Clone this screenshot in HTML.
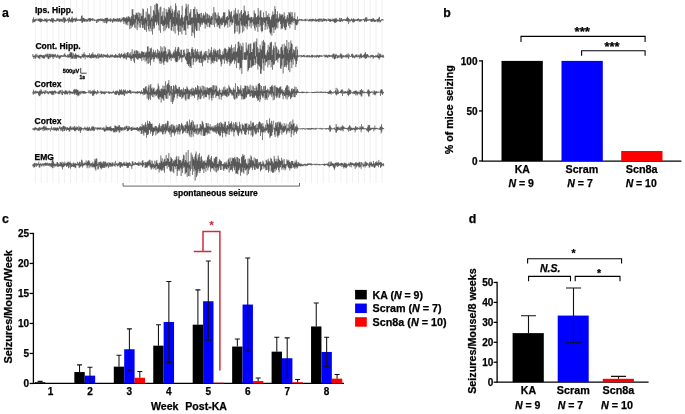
<!DOCTYPE html>
<html><head><meta charset="utf-8"><style>
html,body{margin:0;padding:0;background:#fff;}
svg{display:block;font-family:"Liberation Sans", Arial, sans-serif;}
</style></head><body>
<svg width="685" height="414" viewBox="0 0 685 414">
<defs><filter id="bl" x="-5%" y="-50%" width="110%" height="200%"><feGaussianBlur stdDeviation="0.18"/></filter></defs>
<rect width="685" height="414" fill="#fff"/>
<path d="M35.30 0V183 M41.18 0V183 M47.05 0V183 M52.93 0V183 M58.80 0V183 M64.68 0V183 M70.56 0V183 M76.43 0V183 M82.31 0V183 M88.18 0V183 M94.06 0V183 M99.94 0V183 M105.81 0V183 M111.69 0V183 M117.56 0V183 M123.44 0V183 M129.32 0V183 M135.19 0V183 M141.07 0V183 M146.94 0V183 M152.82 0V183 M158.70 0V183 M164.57 0V183 M170.45 0V183 M176.32 0V183 M182.20 0V183 M188.08 0V183 M193.95 0V183 M199.83 0V183 M205.70 0V183 M211.58 0V183 M217.46 0V183 M223.33 0V183 M229.21 0V183 M235.08 0V183 M240.96 0V183 M246.84 0V183 M252.71 0V183 M258.59 0V183 M264.46 0V183 M270.34 0V183 M276.22 0V183 M282.09 0V183 M287.97 0V183 M293.84 0V183 M299.72 0V183 M305.60 0V183 M311.47 0V183 M317.35 0V183 M323.22 0V183 M329.10 0V183 M334.98 0V183 M340.85 0V183 M346.73 0V183 M352.60 0V183 M358.48 0V183 M364.36 0V183 M370.23 0V183 M376.11 0V183 M381.98 0V183" stroke="#ececec" stroke-width="0.8" fill="none"/>
<g filter="url(#bl)">
<path d="M32.50 23.1 32.83 19.0 33.17 22.3 33.50 17.2 33.83 22.2 34.17 19.7 34.50 21.8 34.83 19.2 35.17 21.5 35.50 18.9 35.83 21.1 36.17 19.7 36.50 20.3 36.83 18.6 37.17 20.4 37.50 19.8 37.83 20.7 38.17 18.6 38.50 20.9 38.83 18.8 39.17 21.4 39.50 18.8 39.83 21.9 40.17 17.9 40.50 22.4 40.83 19.1 41.17 21.6 41.50 18.8 41.83 21.8 42.17 18.9 42.50 20.7 42.83 19.8 43.17 21.2 43.50 20.0 43.83 21.1 44.17 19.5 44.50 21.3 44.83 18.4 45.17 21.1 45.50 19.0 45.83 21.5 46.17 19.6 46.50 22.2 46.83 18.3 47.17 22.4 47.50 19.9 47.83 20.8 48.17 19.4 48.50 20.6 48.83 19.4 49.17 20.3 49.50 19.1 49.83 21.2 50.17 19.2 50.50 21.4 50.83 19.9 51.17 21.7 51.50 18.2 51.83 21.3 52.17 18.2 52.50 22.6 52.83 18.7 53.17 22.7 53.50 18.2 53.83 21.1 54.17 19.7 54.50 20.9 54.83 20.0 55.17 21.9 55.50 20.1 55.83 20.7 56.17 19.9 56.50 21.4 56.83 18.4 57.17 21.1 57.50 18.7 57.83 20.6 58.17 18.4 58.50 20.6 58.83 19.4 59.17 21.9 59.50 18.8 59.83 22.1 60.17 18.7 60.50 20.7 60.83 19.4 61.17 21.6 61.50 18.7 61.83 21.2 62.17 19.7 62.50 21.8 62.83 18.6 63.17 20.4 63.50 17.2 63.83 22.6 64.17 17.6 64.50 22.8 64.83 17.6 65.17 21.3 65.50 18.7 65.83 21.7 66.17 19.8 66.50 20.6 66.83 20.1 67.17 21.0 67.50 18.4 67.83 20.4 68.17 19.3 68.50 22.8 68.83 17.8 69.17 21.4 69.50 17.4 69.83 21.6 70.17 19.5 70.50 21.4 70.83 19.6 71.17 22.4 71.50 18.1 71.83 21.7 72.17 16.6 72.50 22.5 72.83 18.3 73.17 21.8 73.50 19.0 73.83 20.3 74.17 18.1 74.50 20.3 74.83 18.7 75.17 22.0 75.50 18.8 75.83 21.6 76.17 17.6 76.50 20.7 76.83 18.5 77.17 20.8 77.50 19.9 77.83 20.9 78.17 19.0 78.50 20.6 78.83 19.7 79.17 20.4 79.50 19.4 79.83 21.1 80.17 19.3 80.50 21.1 80.83 18.6 81.17 20.6 81.50 16.1 81.83 22.8 82.17 15.4 82.50 22.6 82.83 18.1 83.17 21.8 83.50 17.8 83.83 21.3 84.17 18.3 84.50 21.4 84.83 18.9 85.17 22.0 85.50 19.2 85.83 20.5 86.17 19.3 86.50 21.6 86.83 19.2 87.17 21.7 87.50 19.7 87.83 21.3 88.17 18.1 88.50 20.1 88.83 18.6 89.17 21.7 89.50 18.2 89.83 21.4 90.17 18.1 90.50 21.4 90.83 18.3 91.17 20.4 91.50 19.1 91.83 20.3 92.17 18.7 92.50 20.9 92.83 18.0 93.17 20.2 93.50 19.4 93.83 20.7 94.17 19.6 94.50 21.1 94.83 19.4 95.17 20.4 95.50 19.8 95.83 20.8 96.17 20.1 96.50 23.0 96.83 19.3 97.17 22.7 97.50 19.3 97.83 20.8 98.17 18.8 98.50 21.8 98.83 18.9 99.17 20.4 99.50 19.0 99.83 21.2 100.17 18.9 100.50 20.4 100.83 18.4 101.17 21.1 101.50 19.4 101.83 20.9 102.17 18.5 102.50 20.9 102.83 19.4 103.17 22.6 103.50 19.0 103.83 20.8 104.17 19.6 104.50 22.8 104.83 18.3 105.17 20.8 105.50 18.1 105.83 22.9 106.17 18.1 106.50 23.5 106.83 17.7 107.17 22.6 107.50 17.9 107.83 21.0 108.17 18.7 108.50 21.3 108.83 19.8 109.17 20.6 109.50 19.3 109.83 21.4 110.17 18.5 110.50 22.0 110.83 18.5 111.17 20.5 111.50 19.8 111.83 21.2 112.17 18.9 112.50 22.8 112.83 19.9 113.17 22.1 113.50 18.2 113.83 20.9 114.17 18.4 114.50 21.5 114.83 18.9 115.17 20.9 115.50 19.2 115.83 21.8 116.17 18.5 116.50 21.1 116.83 19.3 117.17 21.9 117.50 18.4 117.83 20.4 118.17 18.2 118.50 21.9 118.83 19.2 119.17 21.6 119.50 18.2 119.83 21.2 120.17 18.4 120.50 22.4 120.83 20.0 121.17 20.9 121.50 18.9 121.83 21.9 122.17 17.5 122.50 19.9 122.83 18.5 123.17 21.4 123.50 17.2 123.83 24.0 124.17 17.1 124.50 21.2 124.83 18.2 125.17 22.4 125.50 18.3 125.83 24.5 126.17 17.4 126.50 24.6 126.83 16.8 127.17 22.6 127.50 18.4 127.83 25.4 128.17 16.3 128.50 21.4 128.83 16.4 129.17 21.9 129.50 17.6 129.83 29.2 130.17 17.3 130.50 25.4 130.83 19.0 131.17 28.3 131.50 16.3 131.83 25.6 132.17 9.5 132.50 26.8 132.83 9.0 133.17 25.1 133.50 14.7 133.83 24.1 134.17 19.1 134.50 27.5 134.83 14.7 135.17 22.6 135.50 15.2 135.83 28.3 136.17 12.8 136.50 19.4 136.83 12.9 137.17 30.1 137.50 14.8 137.83 24.6 138.17 12.2 138.50 21.1 138.83 17.3 139.17 27.4 139.50 12.8 139.83 23.0 140.17 19.2 140.50 27.7 140.83 13.4 141.17 20.9 141.50 16.3 141.83 24.8 142.17 15.7 142.50 27.8 142.83 8.5 143.17 28.1 143.50 9.4 143.83 24.8 144.17 18.9 144.50 29.7 144.83 17.7 145.17 30.1 145.50 17.7 145.83 23.4 146.17 11.7 146.50 31.8 146.83 19.8 147.17 26.1 147.50 8.3 147.83 20.8 148.17 14.4 148.50 29.4 148.83 13.6 149.17 31.4 149.50 14.7 149.83 25.7 150.17 19.7 150.50 28.4 150.83 6.1 151.17 31.3 151.50 17.5 151.83 21.5 152.17 18.8 152.50 34.5 152.83 15.8 153.17 29.0 153.50 10.0 153.83 26.1 154.17 11.5 154.50 28.3 154.83 4.8 155.17 22.1 155.50 14.6 155.83 22.3 156.17 3.7 156.50 25.2 156.83 3.2 157.17 21.5 157.50 4.0 157.83 23.5 158.17 9.6 158.50 25.3 158.83 12.5 159.17 30.5 159.50 14.8 159.83 9.1 160.17 7.4 160.50 32.8 160.83 6.5 161.17 24.1 161.50 16.3 161.83 24.2 162.17 15.5 162.50 25.7 162.83 11.5 163.17 25.8 163.50 20.2 163.83 31.3 164.17 7.9 164.50 25.3 164.83 15.8 165.17 30.4 165.50 17.6 165.83 24.2 166.17 9.1 166.50 28.3 166.83 11.9 167.17 26.8 167.50 12.6 167.83 24.5 168.17 9.5 168.50 28.3 168.83 7.0 169.17 28.4 169.50 8.3 169.83 22.0 170.17 10.5 170.50 19.5 170.83 5.8 171.17 30.4 171.50 13.1 171.83 30.7 172.17 8.8 172.50 26.6 172.83 11.1 173.17 23.9 173.50 17.1 173.83 31.4 174.17 12.3 174.50 26.0 174.83 10.1 175.17 33.6 175.50 3.4 175.83 26.0 176.17 5.8 176.50 23.6 176.83 17.6 177.17 25.2 177.50 12.5 177.83 30.5 178.17 10.4 178.50 35.3 178.83 14.1 179.17 31.9 179.50 10.5 179.83 25.6 180.17 19.1 180.50 31.6 180.83 17.5 181.17 25.9 181.50 15.0 181.83 34.3 182.17 5.8 182.50 27.6 182.83 17.5 183.17 24.6 183.50 21.5 183.83 30.6 184.17 17.3 184.50 29.9 184.83 15.6 185.17 30.8 185.50 8.6 185.83 35.0 186.17 3.7 186.50 20.4 186.83 6.5 187.17 24.6 187.50 16.0 187.83 28.6 188.17 4.4 188.50 25.3 188.83 20.7 189.17 24.8 189.50 13.7 189.83 24.9 190.17 11.8 190.50 25.3 190.83 9.1 191.17 24.2 191.50 17.8 191.83 36.1 192.17 17.7 192.50 32.3 192.83 17.2 193.17 23.4 193.50 9.0 193.83 33.4 194.17 9.1 194.50 37.7 194.83 6.8 195.17 26.7 195.50 14.3 195.83 29.4 196.17 17.8 196.50 31.0 196.83 9.2 197.17 30.8 197.50 12.1 197.83 23.0 198.17 13.8 198.50 22.6 198.83 14.0 199.17 30.6 199.50 14.1 199.83 23.7 200.17 13.1 200.50 26.8 200.83 17.6 201.17 24.7 201.50 12.8 201.83 22.7 202.17 17.9 202.50 24.7 202.83 15.5 203.17 23.0 203.50 13.4 203.83 22.1 204.17 15.8 204.50 23.4 204.83 14.8 205.17 28.7 205.50 12.3 205.83 24.2 206.17 19.1 206.50 24.7 206.83 13.2 207.17 26.9 207.50 14.1 207.83 22.6 208.17 18.2 208.50 22.7 208.83 14.7 209.17 27.0 209.50 15.6 209.83 27.6 210.17 18.6 210.50 24.3 210.83 16.5 211.17 24.3 211.50 15.9 211.83 24.9 212.17 17.7 212.50 19.4 212.83 13.5 213.17 25.0 213.50 15.6 213.83 7.1 214.17 16.0 214.50 27.1 214.83 11.9 215.17 20.2 215.50 12.8 215.83 23.5 216.17 19.1 216.50 22.4 216.83 14.6 217.17 26.8 217.50 18.0 217.83 24.8 218.17 12.5 218.50 25.1 218.83 15.6 219.17 27.7 219.50 16.2 219.83 28.7 220.17 17.7 220.50 23.6 220.83 19.2 221.17 25.6 221.50 17.4 221.83 24.7 222.17 18.4 222.50 24.8 222.83 15.9 223.17 22.4 223.50 12.2 223.83 23.0 224.17 13.0 224.50 27.2 224.83 12.1 225.17 25.8 225.50 19.7 225.83 25.1 226.17 17.3 226.50 23.1 226.83 16.8 227.17 24.3 227.50 16.0 227.83 27.7 228.17 17.9 228.50 20.3 228.83 9.5 229.17 18.8 229.50 11.4 229.83 26.7 230.17 14.5 230.50 22.2 230.83 12.1 231.17 22.2 231.50 11.2 231.83 25.2 232.17 16.5 232.50 23.2 232.83 19.1 233.17 22.5 233.50 15.2 233.83 18.7 234.17 10.3 234.50 33.7 234.83 14.2 235.17 32.5 235.50 8.2 235.83 23.8 236.17 12.7 236.50 25.9 236.83 14.5 237.17 31.7 237.50 13.8 237.83 25.2 238.17 9.6 238.50 25.5 238.83 20.6 239.17 34.2 239.50 13.4 239.83 32.7 240.17 18.1 240.50 20.6 240.83 11.5 241.17 24.5 241.50 10.0 241.83 26.1 242.17 15.5 242.50 32.6 242.83 14.1 243.17 24.8 243.50 13.0 243.83 31.3 244.17 5.6 244.50 26.2 244.83 10.3 245.17 25.6 245.50 11.6 245.83 27.4 246.17 15.2 246.50 23.9 246.83 16.1 247.17 29.4 247.50 15.0 247.83 26.3 248.17 11.2 248.50 20.4 248.83 14.1 249.17 20.5 249.50 17.6 249.83 26.6 250.17 18.0 250.50 23.2 250.83 16.9 251.17 28.3 251.50 16.9 251.83 22.7 252.17 17.4 252.50 21.5 252.83 19.6 253.17 25.9 253.50 17.5 253.83 24.1 254.17 10.4 254.50 28.4 254.83 12.8 255.17 30.7 255.50 13.9 255.83 25.1 256.17 17.5 256.50 27.3 256.83 17.0 257.17 24.2 257.50 15.8 257.83 31.9 258.17 8.2 258.50 23.9 258.83 15.3 259.17 26.9 259.50 17.5 259.83 19.8 260.17 10.9 260.50 25.5 260.83 10.2 261.17 30.7 261.50 17.0 261.83 32.3 262.17 17.7 262.50 31.0 262.83 17.8 263.17 24.8 263.50 12.4 263.83 21.8 264.17 17.4 264.50 23.0 264.83 17.3 265.17 30.1 265.50 17.6 265.83 26.3 266.17 11.0 266.50 20.6 266.83 17.0 267.17 29.3 267.50 15.2 267.83 24.0 268.17 17.0 268.50 26.4 268.83 13.3 269.17 28.5 269.50 17.0 269.83 32.5 270.17 19.0 270.50 34.3 270.83 20.1 271.17 32.4 271.50 16.6 271.83 35.7 272.17 14.7 272.50 27.1 272.83 11.4 273.17 28.2 273.50 14.9 273.83 33.0 274.17 14.0 274.50 26.8 274.83 6.2 275.17 30.1 275.50 9.0 275.83 29.1 276.17 18.5 276.50 27.3 276.83 14.3 277.17 22.4 277.50 11.3 277.83 28.4 278.17 18.7 278.50 22.4 278.83 17.6 279.17 21.6 279.50 13.5 279.83 21.1 280.17 15.6 280.50 24.0 280.83 13.9 281.17 29.4 281.50 15.5 281.83 28.0 282.17 14.4 282.50 28.7 282.83 14.8 283.17 23.3 283.50 17.6 283.83 26.5 284.17 12.3 284.50 28.1 284.83 15.8 285.17 30.2 285.50 19.2 285.83 29.8 286.17 19.4 286.50 26.9 286.83 16.8 287.17 23.2 287.50 15.0 287.83 21.4 288.17 18.2 288.50 25.9 288.83 12.1 289.17 24.1 289.50 12.8 289.83 28.3 290.17 13.9 290.50 24.2 290.83 11.9 291.17 22.2 291.50 16.7 291.83 24.7 292.17 12.1 292.50 21.9 292.83 16.4 293.17 20.6 293.50 18.7 293.83 23.1 294.17 18.2 294.50 20.6 294.83 12.5 295.17 29.9 295.50 19.0 295.83 24.6 296.17 19.3 296.50 25.2 296.83 19.5 297.17 25.2 297.50 16.5 297.83 23.7 298.17 20.0 298.50 21.3 298.83 19.4 299.17 20.6 299.50 18.8 299.83 20.5 300.17 19.7 300.50 20.3 300.83 19.0 301.17 21.1 301.50 19.1 301.83 20.4 302.17 19.7 302.50 20.9 302.83 19.2 303.17 21.2 303.50 20.4 303.83 20.7 304.17 19.7 304.50 20.5 304.83 19.1 305.17 21.3 305.50 18.8 305.83 21.1 306.17 19.9 306.50 20.3 306.83 18.9 307.17 20.8 307.50 19.7 307.83 20.0 308.17 19.7 308.50 21.3 308.83 19.6 309.17 21.3 309.50 19.0 309.83 20.8 310.17 18.8 310.50 21.3 310.83 19.8 311.17 20.5 311.50 19.0 311.83 21.8 312.17 19.0 312.50 21.1 312.83 18.7 313.17 20.7 313.50 19.1 313.83 21.2 314.17 19.3 314.50 20.5 314.83 19.7 315.17 21.5 315.50 18.5 315.83 21.4 316.17 19.5 316.50 21.5 316.83 19.4 317.17 21.2 317.50 19.6 317.83 21.0 318.17 19.1 318.50 21.7 318.83 18.6 319.17 22.0 319.50 18.6 319.83 20.2 320.17 19.2 320.50 21.4 320.83 18.4 321.17 20.3 321.50 19.4 321.83 22.0 322.17 18.5 322.50 21.6 322.83 19.9 323.17 20.8 323.50 18.6 323.83 21.3 324.17 18.5 324.50 21.1 324.83 19.0 325.17 20.6 325.50 19.0 325.83 20.6 326.17 18.9 326.50 21.6 326.83 19.8 327.17 20.7 327.50 19.9 327.83 20.5 328.17 18.4 328.50 20.9 328.83 19.3 329.17 20.8 329.50 18.9 329.83 22.0 330.17 19.3 330.50 21.7 330.83 18.7 331.17 21.3 331.50 19.9 331.83 21.1 332.17 19.7 332.50 21.4 332.83 18.5 333.17 20.7 333.50 19.3 333.83 22.0 334.17 19.1 334.50 22.8 334.83 18.4 335.17 22.7 335.50 18.8 335.83 22.7 336.17 17.9 336.50 22.0 336.83 19.4 337.17 21.0 337.50 19.7 337.83 21.3 338.17 19.7 338.50 20.7 338.83 19.9 339.17 21.6 339.50 17.8 339.83 21.6 340.17 19.7 340.50 22.0 340.83 18.0 341.17 21.3 341.50 18.1 341.83 21.0 342.17 19.5 342.50 21.7 342.83 19.5 343.17 20.6 343.50 19.2 343.83 20.8 344.17 19.7 344.50 20.3 344.83 19.0 345.17 20.8 345.50 19.5 345.83 21.0 346.17 19.1 346.50 21.2 346.83 17.9 347.17 21.0 347.50 16.7 347.83 21.7 348.17 18.2 348.50 24.1 348.83 18.4 349.17 20.8 349.50 19.2 349.83 22.2 350.17 20.2 350.50 20.7 350.83 19.3 351.17 21.0 351.50 18.4 351.83 20.5 352.17 19.4 352.50 21.7 352.83 19.4 353.17 22.5 353.50 18.3 353.83 22.3 354.17 19.0 354.50 21.6 354.83 19.5 355.17 21.1 355.50 19.5 355.83 20.7 356.17 19.7 356.50 20.8 356.83 19.2 357.17 20.8 357.50 19.2 357.83 21.2 358.17 18.3 358.50 20.2 358.83 18.9 359.17 21.4 359.50 19.7 359.83 21.8 360.17 19.0 360.50 21.4 360.83 19.5 361.17 21.2 361.50 19.2 361.83 20.5 362.17 19.7 362.50 20.3 362.83 19.2 363.17 20.1 363.50 19.3 363.83 20.4 364.17 18.6 364.50 21.8 364.83 19.4 365.17 21.6 365.50 17.5 365.83 20.9 366.17 17.4 366.50 22.0 366.83 17.4 367.17 21.0 367.50 19.6 367.83 20.5 368.17 19.1 368.50 20.6 368.83 19.6 369.17 20.4 369.50 19.3 369.83 20.4 370.17 19.2 370.50 20.7 370.83 19.2 371.17 21.9 371.50 18.8 371.83 22.0 372.17 19.4 372.50 21.4 372.83 18.2 373.17 20.9 373.50 18.5 373.83 21.9 374.17 19.1 374.50 21.8 374.83 19.9 375.17 21.9 375.50 19.9 375.83 21.5 376.17 19.8 376.50 20.4 376.83 19.4 377.17 21.5 377.50 19.0 377.83 22.4 378.17 18.9 378.50 21.7 378.83 17.6 379.17 20.8 379.50 16.9 379.83 22.5 380.17 20.1 380.50 22.1 380.83 20.0 381.17 20.8 381.50 19.4 381.83 20.5 382.17 19.2 382.50 20.2 382.83 19.1 383.17 20.3 383.50 20.1 383.83 20.7" stroke="#000" stroke-width="0.32" fill="none" stroke-linejoin="round"/>
<path d="M32.50 56.6 32.83 54.1 33.17 57.1 33.50 56.0 33.83 58.8 34.17 55.5 34.50 56.9 34.83 55.5 35.17 58.5 35.50 54.3 35.83 58.5 36.17 55.6 36.50 56.6 36.83 53.7 37.17 56.4 37.50 55.5 37.83 57.8 38.17 55.6 38.50 58.1 38.83 55.5 39.17 58.4 39.50 54.9 39.83 59.2 40.17 54.9 40.50 56.7 40.83 54.6 41.17 56.6 41.50 55.0 41.83 57.6 42.17 55.7 42.50 57.8 42.83 55.0 43.17 58.4 43.50 55.1 43.83 58.7 44.17 55.8 44.50 58.3 44.83 54.7 45.17 57.4 45.50 54.8 45.83 56.1 46.17 53.7 46.50 57.2 46.83 55.2 47.17 56.8 47.50 53.8 47.83 58.6 48.17 53.7 48.50 59.2 48.83 55.8 49.17 58.6 49.50 53.8 49.83 57.1 50.17 54.4 50.50 57.6 50.83 53.7 51.17 57.0 51.50 55.4 51.83 56.6 52.17 53.9 52.50 57.3 52.83 54.4 53.17 59.0 53.50 54.4 53.83 56.8 54.17 55.1 54.50 57.4 54.83 53.9 55.17 56.3 55.50 54.4 55.83 57.3 56.17 55.7 56.50 57.8 56.83 55.7 57.17 56.4 57.50 54.5 57.83 57.9 58.17 54.8 58.50 56.9 58.83 56.2 59.17 58.9 59.50 55.6 59.83 58.6 60.17 55.2 60.50 57.7 60.83 55.5 61.17 57.1 61.50 55.2 61.83 56.3 62.17 55.3 62.50 57.0 62.83 55.5 63.17 56.4 63.50 55.4 63.83 57.0 64.17 54.2 64.50 56.6 64.83 53.2 65.17 56.3 65.50 55.1 65.83 57.3 66.17 55.6 66.50 57.1 66.83 56.2 67.17 56.6 67.50 54.8 67.83 57.9 68.17 54.1 68.50 57.2 68.83 55.7 69.17 57.9 69.50 53.9 69.83 57.1 70.17 52.3 70.50 57.1 70.83 52.4 71.17 59.0 71.50 52.5 71.83 58.0 72.17 52.5 72.50 58.4 72.83 55.8 73.17 59.0 73.50 53.4 73.83 56.5 74.17 55.1 74.50 58.5 74.83 54.6 75.17 58.5 75.50 53.3 75.83 58.8 76.17 54.7 76.50 58.7 76.83 54.6 77.17 56.8 77.50 55.0 77.83 57.6 78.17 55.3 78.50 57.6 78.83 54.6 79.17 57.0 79.50 56.0 79.83 57.9 80.17 56.1 80.50 58.4 80.83 55.9 81.17 58.6 81.50 56.4 81.83 56.9 82.17 54.0 82.50 56.9 82.83 54.9 83.17 57.9 83.50 53.7 83.83 57.5 84.17 52.3 84.50 56.6 84.83 54.9 85.17 59.3 85.50 54.5 85.83 56.6 86.17 55.7 86.50 57.0 86.83 55.1 87.17 58.1 87.50 55.4 87.83 57.2 88.17 55.2 88.50 57.0 88.83 55.0 89.17 57.9 89.50 53.3 89.83 57.4 90.17 55.4 90.50 58.0 90.83 54.9 91.17 58.6 91.50 53.8 91.83 57.7 92.17 54.4 92.50 57.7 92.83 52.3 93.17 58.0 93.50 54.5 93.83 58.0 94.17 55.3 94.50 56.9 94.83 54.4 95.17 58.3 95.50 54.6 95.83 57.0 96.17 55.2 96.50 58.3 96.83 55.3 97.17 58.6 97.50 54.2 97.83 56.2 98.17 53.3 98.50 58.6 98.83 55.7 99.17 57.5 99.50 53.9 99.83 57.5 100.17 55.5 100.50 57.1 100.83 54.3 101.17 57.0 101.50 53.7 101.83 57.8 102.17 54.5 102.50 56.7 102.83 55.8 103.17 58.0 103.50 54.2 103.83 56.5 104.17 54.5 104.50 56.5 104.83 54.8 105.17 57.1 105.50 55.2 105.83 57.3 106.17 54.7 106.50 56.8 106.83 55.2 107.17 58.0 107.50 53.7 107.83 57.3 108.17 54.8 108.50 56.8 108.83 55.6 109.17 58.0 109.50 56.3 109.83 57.8 110.17 54.7 110.50 57.2 110.83 54.6 111.17 56.7 111.50 55.4 111.83 57.5 112.17 54.5 112.50 56.8 112.83 54.8 113.17 56.5 113.50 55.9 113.83 57.6 114.17 55.2 114.50 57.8 114.83 55.2 115.17 57.3 115.50 53.9 115.83 57.9 116.17 54.6 116.50 57.0 116.83 55.5 117.17 58.1 117.50 55.3 117.83 57.5 118.17 56.2 118.50 57.0 118.83 53.7 119.17 57.9 119.50 53.3 119.83 57.2 120.17 55.3 120.50 58.4 120.83 54.0 121.17 57.2 121.50 53.3 121.83 56.8 122.17 54.6 122.50 56.6 122.83 55.2 123.17 58.3 123.50 53.9 123.83 58.6 124.17 53.8 124.50 58.1 124.83 52.6 125.17 57.1 125.50 54.5 125.83 58.8 126.17 55.5 126.50 59.7 126.83 52.9 127.17 57.0 127.50 52.4 127.83 57.9 128.17 52.1 128.50 57.0 128.83 55.7 129.17 57.9 129.50 53.5 129.83 57.7 130.17 54.6 130.50 59.1 130.83 52.1 131.17 61.1 131.50 55.7 131.83 59.3 132.17 49.2 132.50 58.2 132.83 54.4 133.17 58.0 133.50 54.0 133.83 61.3 134.17 51.3 134.50 63.1 134.83 50.3 135.17 57.4 135.50 54.1 135.83 57.5 136.17 50.8 136.50 58.4 136.83 50.0 137.17 59.0 137.50 51.1 137.83 60.0 138.17 53.7 138.50 58.4 138.83 51.4 139.17 58.5 139.50 53.7 139.83 57.9 140.17 52.9 140.50 58.6 140.83 54.4 141.17 58.2 141.50 51.5 141.83 61.1 142.17 51.1 142.50 57.3 142.83 52.0 143.17 57.5 143.50 52.4 143.83 60.0 144.17 51.9 144.50 57.2 144.83 55.0 145.17 61.6 145.50 52.9 145.83 57.3 146.17 51.6 146.50 60.6 146.83 52.4 147.17 63.5 147.50 46.7 147.83 58.7 148.17 46.2 148.50 63.8 148.83 51.8 149.17 57.4 149.50 51.6 149.83 62.8 150.17 48.0 150.50 65.4 150.83 49.4 151.17 60.1 151.50 47.7 151.83 58.8 152.17 54.4 152.50 57.1 152.83 52.1 153.17 59.3 153.50 49.7 153.83 61.9 154.17 52.2 154.50 59.1 154.83 52.4 155.17 57.6 155.50 50.4 155.83 56.8 156.17 54.8 156.50 57.8 156.83 52.7 157.17 59.2 157.50 49.1 157.83 57.3 158.17 53.2 158.50 58.5 158.83 50.5 159.17 60.7 159.50 51.5 159.83 63.5 160.17 53.1 160.50 61.1 160.83 46.2 161.17 64.0 161.50 51.3 161.83 61.7 162.17 47.4 162.50 57.6 162.83 52.5 163.17 63.1 163.50 51.4 163.83 64.9 164.17 46.2 164.50 61.2 164.83 51.0 165.17 61.4 165.50 47.4 165.83 58.8 166.17 51.4 166.50 61.5 166.83 54.5 167.17 62.6 167.50 53.9 167.83 61.8 168.17 49.1 168.50 56.6 168.83 52.4 169.17 59.6 169.50 49.5 169.83 59.1 170.17 50.7 170.50 58.0 170.83 52.8 171.17 61.0 171.50 54.3 171.83 57.3 172.17 55.1 172.50 57.9 172.83 53.3 173.17 58.7 173.50 51.4 173.83 57.3 174.17 52.7 174.50 58.0 174.83 49.7 175.17 60.7 175.50 47.2 175.83 62.2 176.17 51.6 176.50 61.9 176.83 51.3 177.17 62.2 177.50 48.9 177.83 61.0 178.17 47.0 178.50 56.0 178.83 47.4 179.17 59.8 179.50 51.8 179.83 58.5 180.17 53.7 180.50 57.4 180.83 49.8 181.17 58.4 181.50 49.7 181.83 62.2 182.17 54.8 182.50 57.3 182.83 55.1 183.17 57.5 183.50 50.1 183.83 57.3 184.17 49.4 184.50 56.4 184.83 52.8 185.17 58.7 185.50 56.4 185.83 60.1 186.17 54.0 186.50 60.9 186.83 48.7 187.17 64.2 187.50 52.8 187.83 64.1 188.17 48.9 188.50 66.0 188.83 51.8 189.17 63.9 189.50 52.1 189.83 67.4 190.17 52.5 190.50 66.0 190.83 56.1 191.17 68.0 191.50 49.0 191.83 59.0 192.17 47.2 192.50 57.6 192.83 49.0 193.17 64.9 193.50 52.5 193.83 61.9 194.17 49.8 194.50 58.0 194.83 55.3 195.17 58.3 195.50 48.7 195.83 62.3 196.17 51.5 196.50 60.8 196.83 51.6 197.17 58.8 197.50 49.2 197.83 60.4 198.17 54.0 198.50 58.8 198.83 52.0 199.17 62.2 199.50 55.3 199.83 63.0 200.17 51.2 200.50 58.6 200.83 52.2 201.17 63.1 201.50 50.6 201.83 62.6 202.17 56.3 202.50 66.2 202.83 54.4 203.17 58.7 203.50 55.2 203.83 61.5 204.17 51.9 204.50 59.7 204.83 53.3 205.17 60.6 205.50 51.0 205.83 60.1 206.17 54.5 206.50 56.4 206.83 51.2 207.17 57.9 207.50 55.6 207.83 63.0 208.17 55.4 208.50 59.4 208.83 48.9 209.17 56.9 209.50 53.3 209.83 59.9 210.17 52.6 210.50 57.5 210.83 50.3 211.17 64.2 211.50 47.2 211.83 61.3 212.17 52.4 212.50 62.8 212.83 54.9 213.17 60.4 213.50 50.1 213.83 63.3 214.17 48.5 214.50 60.8 214.83 51.3 215.17 61.1 215.50 49.5 215.83 57.2 216.17 50.9 216.50 61.7 216.83 52.9 217.17 61.6 217.50 50.4 217.83 57.4 218.17 49.9 218.50 59.6 218.83 54.6 219.17 58.8 219.50 48.7 219.83 59.5 220.17 49.8 220.50 61.5 220.83 54.3 221.17 66.5 221.50 55.3 221.83 64.1 222.17 54.8 222.50 58.7 222.83 51.4 223.17 60.1 223.50 54.3 223.83 58.9 224.17 48.9 224.50 63.6 224.83 47.8 225.17 57.6 225.50 48.6 225.83 60.3 226.17 49.1 226.50 60.8 226.83 53.0 227.17 63.6 227.50 51.5 227.83 61.5 228.17 49.4 228.50 59.1 228.83 46.7 229.17 61.9 229.50 47.8 229.83 65.8 230.17 48.7 230.50 63.2 230.83 47.1 231.17 63.8 231.50 44.8 231.83 62.2 232.17 53.5 232.50 61.2 232.83 47.9 233.17 60.3 233.50 51.7 233.83 59.3 234.17 47.1 234.50 63.8 234.83 51.8 235.17 60.1 235.50 44.3 235.83 61.3 236.17 51.8 236.50 68.0 236.83 51.5 237.17 57.4 237.50 48.4 237.83 62.9 238.17 42.0 238.50 63.2 238.83 41.5 239.17 62.8 239.50 46.4 239.83 69.7 240.17 43.5 240.50 67.8 240.83 50.3 241.17 68.1 241.50 45.6 241.83 73.8 242.17 46.8 242.50 60.0 242.83 42.7 243.17 44.2 243.50 49.0 243.83 59.5 244.17 52.5 244.50 59.7 244.83 52.2 245.17 59.9 245.50 52.3 245.83 60.1 246.17 42.5 246.50 59.5 246.83 48.5 247.17 55.4 247.50 50.7 247.83 71.4 248.17 45.1 248.50 70.0 248.83 43.7 249.17 68.0 249.50 53.0 249.83 67.8 250.17 44.2 250.50 60.3 250.83 43.3 251.17 67.5 251.50 52.1 251.83 67.4 252.17 52.0 252.50 65.6 252.83 48.8 253.17 65.8 253.50 42.5 253.83 65.2 254.17 43.8 254.50 58.8 254.83 41.6 255.17 65.1 255.50 56.3 255.83 63.1 256.17 41.7 256.50 56.7 256.83 38.5 257.17 63.9 257.50 47.3 257.83 69.6 258.17 52.7 258.50 64.7 258.83 48.6 259.17 65.8 259.50 52.4 259.83 66.9 260.17 44.8 260.50 73.7 260.83 48.8 261.17 73.8 261.50 50.1 261.83 69.4 262.17 41.3 262.50 58.6 262.83 46.0 263.17 63.2 263.50 39.9 263.83 70.8 264.17 41.8 264.50 58.7 264.83 42.8 265.17 65.6 265.50 54.7 265.83 62.5 266.17 55.4 266.50 61.9 266.83 52.6 267.17 60.7 267.50 50.2 267.83 67.4 268.17 44.9 268.50 60.1 268.83 52.2 269.17 64.8 269.50 46.9 269.83 59.9 270.17 42.8 270.50 59.9 270.83 42.4 271.17 67.3 271.50 41.8 271.83 62.1 272.17 54.7 272.50 69.8 272.83 49.6 273.17 64.5 273.50 45.7 273.83 65.1 274.17 48.0 274.50 63.7 274.83 52.1 275.17 42.2 275.50 52.3 275.83 61.0 276.17 46.1 276.50 60.1 276.83 47.3 277.17 59.5 277.50 53.0 277.83 62.5 278.17 49.2 278.50 58.5 278.83 50.4 279.17 57.2 279.50 54.2 279.83 58.1 280.17 54.0 280.50 68.3 280.83 47.4 281.17 68.8 281.50 46.9 281.83 65.6 282.17 44.3 282.50 58.9 282.83 50.2 283.17 73.5 283.50 54.5 283.83 58.2 284.17 43.8 284.50 67.0 284.83 47.7 285.17 66.7 285.50 45.8 285.83 65.0 286.17 46.5 286.50 67.4 286.83 40.0 287.17 60.5 287.50 48.8 287.83 64.8 288.17 53.1 288.50 70.2 288.83 42.1 289.17 62.3 289.50 50.1 289.83 72.2 290.17 47.4 290.50 59.7 290.83 40.4 291.17 62.0 291.50 43.4 291.83 68.1 292.17 44.1 292.50 59.3 292.83 53.5 293.17 64.6 293.50 49.2 293.83 57.2 294.17 51.4 294.50 58.8 294.83 49.9 295.17 60.6 295.50 46.8 295.83 67.1 296.17 55.5 296.50 64.0 296.83 46.3 297.17 60.8 297.50 49.7 297.83 57.7 298.17 55.3 298.50 56.4 298.83 55.8 299.17 56.9 299.50 55.2 299.83 56.2 300.17 55.9 300.50 56.3 300.83 54.9 301.17 57.5 301.50 55.2 301.83 56.6 302.17 56.0 302.50 57.0 302.83 55.1 303.17 57.2 303.50 55.0 303.83 56.4 304.17 54.7 304.50 57.3 304.83 55.6 305.17 56.7 305.50 55.9 305.83 56.5 306.17 55.7 306.50 57.0 306.83 55.2 307.17 57.7 307.50 55.4 307.83 56.7 308.17 55.0 308.50 56.7 308.83 55.9 309.17 57.6 309.50 55.2 309.83 57.1 310.17 55.7 310.50 56.6 310.83 56.0 311.17 57.5 311.50 55.0 311.83 57.2 312.17 54.9 312.50 57.6 312.83 54.8 313.17 56.8 313.50 55.7 313.83 56.6 314.17 55.8 314.50 57.4 314.83 55.1 315.17 56.3 315.50 55.8 315.83 57.5 316.17 55.5 316.50 57.5 316.83 54.9 317.17 56.8 317.50 55.0 317.83 56.7 318.17 55.8 318.50 57.7 318.83 55.1 319.17 57.5 319.50 54.9 319.83 56.9 320.17 55.4 320.50 56.4 320.83 55.2 321.17 56.9 321.50 55.4 321.83 56.7 322.17 55.7 322.50 56.5 322.83 55.7 323.17 56.2 323.50 55.7 323.83 56.2 324.17 54.6 324.50 56.4 324.83 55.6 325.17 57.6 325.50 55.4 325.83 57.0 326.17 54.6 326.50 56.9 326.83 54.9 327.17 57.5 327.50 55.9 327.83 57.9 328.17 55.0 328.50 56.4 328.83 54.7 329.17 57.1 329.50 54.9 329.83 57.0 330.17 55.5 330.50 56.5 330.83 55.2 331.17 56.4 331.50 55.5 331.83 57.0 332.17 55.1 332.50 58.1 332.83 53.9 333.17 56.7 333.50 53.6 333.83 58.5 334.17 55.3 334.50 59.4 334.83 53.8 335.17 59.0 335.50 55.1 335.83 58.1 336.17 53.9 336.50 56.0 336.83 55.3 337.17 58.4 337.50 55.6 337.83 58.0 338.17 55.0 338.50 57.5 338.83 55.8 339.17 56.4 339.50 55.6 339.83 57.9 340.17 54.5 340.50 56.8 340.83 53.2 341.17 58.5 341.50 54.4 341.83 58.8 342.17 54.7 342.50 57.5 342.83 56.1 343.17 56.9 343.50 55.3 343.83 57.5 344.17 55.3 344.50 56.7 344.83 56.1 345.17 56.7 345.50 55.1 345.83 57.7 346.17 55.2 346.50 57.3 346.83 54.1 347.17 56.6 347.50 55.5 347.83 57.7 348.17 53.3 348.50 58.9 348.83 55.5 349.17 56.4 349.50 54.6 349.83 57.2 350.17 56.2 350.50 56.8 350.83 56.1 351.17 56.7 351.50 54.3 351.83 56.7 352.17 53.6 352.50 58.0 352.83 54.2 353.17 57.1 353.50 55.5 353.83 57.7 354.17 56.1 354.50 58.3 354.83 55.6 355.17 56.7 355.50 55.1 355.83 57.5 356.17 54.3 356.50 56.8 356.83 54.6 357.17 57.5 357.50 56.2 357.83 56.8 358.17 54.8 358.50 56.7 358.83 55.3 359.17 57.4 359.50 55.6 359.83 58.9 360.17 54.0 360.50 57.0 360.83 53.3 361.17 58.2 361.50 54.3 361.83 58.0 362.17 55.7 362.50 57.0 362.83 55.5 363.17 56.5 363.50 55.0 363.83 57.7 364.17 54.3 364.50 57.5 364.83 53.3 365.17 58.3 365.50 52.2 365.83 59.0 366.17 54.7 366.50 58.2 366.83 54.2 367.17 56.6 367.50 54.2 367.83 57.5 368.17 54.9 368.50 57.1 368.83 56.4 369.17 57.5 369.50 56.1 369.83 56.4 370.17 55.6 370.50 57.7 370.83 55.1 371.17 56.6 371.50 55.3 371.83 57.2 372.17 54.7 372.50 56.8 372.83 55.5 373.17 58.8 373.50 55.2 373.83 57.5 374.17 55.9 374.50 57.0 374.83 56.1 375.17 57.6 375.50 55.4 375.83 56.8 376.17 55.5 376.50 56.9 376.83 55.5 377.17 57.5 377.50 54.9 377.83 57.8 378.17 52.7 378.50 58.0 378.83 55.9 379.17 59.5 379.50 53.9 379.83 58.3 380.17 53.6 380.50 57.2 380.83 54.4 381.17 57.2 381.50 55.7 381.83 56.8 382.17 55.7 382.50 57.3 382.83 54.6 383.17 57.7 383.50 55.4 383.83 57.9" stroke="#000" stroke-width="0.32" fill="none" stroke-linejoin="round"/>
<path d="M32.50 92.6 32.83 91.9 33.17 94.6 33.50 89.8 33.83 94.2 34.17 91.1 34.50 93.4 34.83 92.3 35.17 93.0 35.50 90.8 35.83 93.9 36.17 90.8 36.50 93.0 36.83 91.8 37.17 92.8 37.50 91.3 37.83 93.3 38.17 91.4 38.50 94.8 38.83 91.9 39.17 96.1 39.50 90.7 39.83 96.2 40.17 90.8 40.50 94.6 40.83 89.3 41.17 93.5 41.50 90.3 41.83 94.3 42.17 91.8 42.50 93.7 42.83 91.6 43.17 93.1 43.50 91.8 43.83 93.2 44.17 90.5 44.50 94.2 44.83 92.2 45.17 93.8 45.50 90.5 45.83 92.7 46.17 90.5 46.50 93.1 46.83 92.2 47.17 92.6 47.50 91.3 47.83 94.2 48.17 91.6 48.50 94.3 48.83 92.2 49.17 93.1 49.50 91.2 49.83 93.2 50.17 91.1 50.50 93.3 50.83 91.4 51.17 93.8 51.50 91.4 51.83 95.0 52.17 90.6 52.50 94.7 52.83 91.1 53.17 94.2 53.50 91.4 53.83 94.9 54.17 90.7 54.50 92.6 54.83 90.7 55.17 93.4 55.50 90.9 55.83 93.7 56.17 91.7 56.50 92.8 56.83 92.2 57.17 92.6 57.50 91.8 57.83 93.8 58.17 92.3 58.50 94.2 58.83 91.1 59.17 93.6 59.50 90.7 59.83 94.2 60.17 90.4 60.50 92.4 60.83 90.3 61.17 93.1 61.50 92.2 61.83 94.8 62.17 89.7 62.50 95.1 62.83 91.7 63.17 92.9 63.50 91.3 63.83 93.2 64.17 92.1 64.50 93.9 64.83 90.8 65.17 94.7 65.50 90.3 65.83 93.9 66.17 90.9 66.50 93.5 66.83 90.5 67.17 94.6 67.50 91.7 67.83 94.2 68.17 92.2 68.50 92.7 68.83 90.7 69.17 93.0 69.50 90.6 69.83 94.7 70.17 91.8 70.50 93.2 70.83 91.0 71.17 93.4 71.50 92.0 71.83 93.6 72.17 91.8 72.50 93.5 72.83 91.9 73.17 94.1 73.50 90.3 73.83 92.9 74.17 89.4 74.50 94.5 74.83 88.9 75.17 94.4 75.50 90.2 75.83 92.8 76.17 89.1 76.50 95.1 76.83 89.3 77.17 94.8 77.50 90.0 77.83 96.3 78.17 90.2 78.50 95.3 78.83 91.6 79.17 95.5 79.50 91.8 79.83 93.5 80.17 90.8 80.50 94.4 80.83 91.7 81.17 92.6 81.50 91.5 81.83 93.7 82.17 90.9 82.50 92.8 82.83 91.2 83.17 93.6 83.50 91.3 83.83 93.9 84.17 91.0 84.50 93.4 84.83 91.1 85.17 93.7 85.50 91.8 85.83 93.6 86.17 92.2 86.50 92.9 86.83 92.0 87.17 92.5 87.50 92.1 87.83 92.7 88.17 91.7 88.50 92.6 88.83 90.2 89.17 93.5 89.50 91.8 89.83 92.6 90.17 90.2 90.50 93.9 90.83 91.5 91.17 92.8 91.50 91.5 91.83 93.8 92.17 91.5 92.50 95.7 92.83 90.3 93.17 95.7 93.50 91.0 93.83 95.3 94.17 89.5 94.50 94.0 94.83 91.1 95.17 93.3 95.50 91.2 95.83 93.2 96.17 92.0 96.50 94.5 96.83 91.8 97.17 93.0 97.50 90.0 97.83 93.9 98.17 91.2 98.50 92.7 98.83 92.2 99.17 92.6 99.50 91.8 99.83 92.5 100.17 91.9 100.50 92.5 100.83 90.6 101.17 94.2 101.50 91.3 101.83 94.0 102.17 91.7 102.50 93.2 102.83 91.3 103.17 93.9 103.50 91.7 103.83 93.4 104.17 92.1 104.50 94.4 104.83 90.9 105.17 94.0 105.50 92.3 105.83 92.9 106.17 91.4 106.50 93.0 106.83 91.7 107.17 92.4 107.50 92.1 107.83 92.8 108.17 91.6 108.50 93.4 108.83 91.2 109.17 93.7 109.50 92.1 109.83 94.0 110.17 91.7 110.50 92.8 110.83 91.9 111.17 93.2 111.50 92.1 111.83 93.7 112.17 92.3 112.50 93.0 112.83 91.4 113.17 93.2 113.50 90.7 113.83 92.6 114.17 92.0 114.50 93.6 114.83 92.1 115.17 95.0 115.50 91.1 115.83 94.5 116.17 90.6 116.50 94.9 116.83 91.3 117.17 93.5 117.50 90.6 117.83 93.3 118.17 91.7 118.50 95.1 118.83 91.7 119.17 95.4 119.50 89.5 119.83 95.0 120.17 89.9 120.50 93.9 120.83 90.6 121.17 94.4 121.50 89.3 121.83 94.7 122.17 90.6 122.50 94.5 122.83 92.1 123.17 93.8 123.50 89.6 123.83 95.2 124.17 89.9 124.50 95.9 124.83 90.8 125.17 92.7 125.50 89.5 125.83 94.1 126.17 91.2 126.50 93.1 126.83 91.9 127.17 94.1 127.50 90.4 127.83 92.6 128.17 91.1 128.50 93.1 128.83 90.9 129.17 92.8 129.50 89.8 129.83 93.1 130.17 90.3 130.50 93.5 130.83 90.4 131.17 93.9 131.50 91.6 131.83 92.6 132.17 92.3 132.50 92.9 132.83 91.2 133.17 93.2 133.50 91.6 133.83 92.5 134.17 91.9 134.50 93.0 134.83 91.4 135.17 93.4 135.50 91.8 135.83 93.3 136.17 92.1 136.50 93.1 136.83 91.4 137.17 93.8 137.50 91.2 137.83 93.6 138.17 91.5 138.50 93.0 138.83 91.7 139.17 92.9 139.50 91.2 139.83 93.1 140.17 92.0 140.50 94.3 140.83 91.6 141.17 93.9 141.50 90.3 141.83 92.9 142.17 92.1 142.50 94.0 142.83 91.8 143.17 95.3 143.50 88.2 143.83 93.4 144.17 87.8 144.50 94.6 144.83 89.1 145.17 94.6 145.50 86.9 145.83 93.6 146.17 86.0 146.50 93.5 146.83 89.9 147.17 98.5 147.50 91.6 147.83 94.6 148.17 87.4 148.50 100.2 148.83 84.7 149.17 98.6 149.50 92.4 149.83 94.5 150.17 85.7 150.50 99.9 150.83 84.0 151.17 95.7 151.50 88.2 151.83 94.5 152.17 90.4 152.50 96.9 152.83 87.6 153.17 94.1 153.50 89.0 153.83 97.3 154.17 87.8 154.50 94.7 154.83 91.8 155.17 94.2 155.50 91.3 155.83 96.2 156.17 89.5 156.50 95.5 156.83 90.3 157.17 94.3 157.50 88.7 157.83 97.6 158.17 83.6 158.50 98.8 158.83 86.0 159.17 99.7 159.50 90.5 159.83 97.2 160.17 88.9 160.50 96.7 160.83 91.1 161.17 102.6 161.50 88.5 161.83 98.2 162.17 89.1 162.50 98.4 162.83 85.4 163.17 99.6 163.50 89.3 163.83 100.8 164.17 85.9 164.50 95.0 164.83 89.0 165.17 95.4 165.50 81.3 165.83 98.4 166.17 90.3 166.50 98.8 166.83 85.1 167.17 93.7 167.50 84.1 167.83 98.8 168.17 83.0 168.50 92.3 168.83 80.1 169.17 95.2 169.50 85.1 169.83 96.0 170.17 91.4 170.50 93.3 170.83 86.1 171.17 101.9 171.50 85.9 171.83 94.5 172.17 92.8 172.50 103.9 172.83 88.8 173.17 101.9 173.50 85.3 173.83 99.9 174.17 86.2 174.50 97.4 174.83 90.7 175.17 94.3 175.50 84.6 175.83 93.5 176.17 85.7 176.50 93.6 176.83 88.3 177.17 98.4 177.50 88.9 177.83 95.8 178.17 89.2 178.50 93.4 178.83 87.2 179.17 96.6 179.50 86.9 179.83 96.5 180.17 90.3 180.50 97.0 180.83 89.6 181.17 94.4 181.50 89.2 181.83 98.8 182.17 91.5 182.50 97.4 182.83 89.6 183.17 97.5 183.50 87.7 183.83 95.6 184.17 92.0 184.50 94.7 184.83 89.1 185.17 99.3 185.50 88.9 185.83 100.8 186.17 89.5 186.50 94.0 186.83 86.4 187.17 99.2 187.50 87.7 187.83 93.9 188.17 89.3 188.50 98.9 188.83 90.3 189.17 99.4 189.50 90.5 189.83 96.8 190.17 89.0 190.50 94.2 190.83 91.4 191.17 94.5 191.50 88.8 191.83 96.4 192.17 87.6 192.50 95.2 192.83 91.4 193.17 95.7 193.50 88.2 193.83 95.7 194.17 90.6 194.50 97.9 194.83 89.4 195.17 94.1 195.50 87.1 195.83 94.9 196.17 88.0 196.50 94.5 196.83 89.9 197.17 94.2 197.50 85.2 197.83 100.3 198.17 86.0 198.50 97.0 198.83 89.2 199.17 98.8 199.50 90.6 199.83 94.1 200.17 86.4 200.50 99.3 200.83 88.3 201.17 98.3 201.50 89.8 201.83 92.6 202.17 85.5 202.50 96.1 202.83 91.5 203.17 94.6 203.50 86.1 203.83 98.6 204.17 90.3 204.50 94.6 204.83 86.7 205.17 97.1 205.50 89.8 205.83 96.8 206.17 87.5 206.50 97.2 206.83 90.6 207.17 94.4 207.50 87.4 207.83 94.1 208.17 88.4 208.50 95.2 208.83 88.1 209.17 99.6 209.50 88.0 209.83 94.8 210.17 87.1 210.50 92.5 210.83 88.2 211.17 98.0 211.50 87.1 211.83 100.5 212.17 89.1 212.50 95.3 212.83 85.5 213.17 98.1 213.50 85.1 213.83 95.0 214.17 90.3 214.50 93.7 214.83 85.5 215.17 92.1 215.50 89.2 215.83 97.8 216.17 85.4 216.50 95.9 216.83 86.6 217.17 95.9 217.50 90.8 217.83 95.7 218.17 91.9 218.50 96.3 218.83 90.3 219.17 99.3 219.50 88.5 219.83 94.7 220.17 90.1 220.50 94.3 220.83 92.9 221.17 99.8 221.50 92.7 221.83 96.7 222.17 89.4 222.50 95.7 222.83 90.6 223.17 94.4 223.50 87.3 223.83 95.8 224.17 90.5 224.50 94.6 224.83 86.5 225.17 95.5 225.50 89.7 225.83 96.0 226.17 90.2 226.50 96.5 226.83 88.5 227.17 97.2 227.50 88.6 227.83 94.3 228.17 92.2 228.50 96.2 228.83 85.3 229.17 95.4 229.50 87.2 229.83 92.6 230.17 87.8 230.50 92.9 230.83 89.6 231.17 94.1 231.50 89.8 231.83 95.5 232.17 92.1 232.50 94.6 232.83 89.8 233.17 95.8 233.50 87.7 233.83 98.5 234.17 90.0 234.50 99.6 234.83 89.3 235.17 92.1 235.50 83.4 235.83 99.2 236.17 91.8 236.50 97.4 236.83 92.3 237.17 98.3 237.50 86.0 237.83 94.0 238.17 87.0 238.50 96.1 238.83 89.1 239.17 93.6 239.50 90.1 239.83 95.5 240.17 88.6 240.50 93.8 240.83 85.4 241.17 96.2 241.50 90.4 241.83 99.5 242.17 93.8 242.50 96.2 242.83 88.2 243.17 98.8 243.50 89.4 243.83 99.6 244.17 88.0 244.50 98.7 244.83 85.4 245.17 98.8 245.50 85.9 245.83 96.8 246.17 85.9 246.50 97.5 246.83 91.2 247.17 94.9 247.50 85.8 247.83 94.0 248.17 88.9 248.50 93.8 248.83 86.7 249.17 94.3 249.50 89.6 249.83 96.8 250.17 84.7 250.50 96.3 250.83 91.1 251.17 92.8 251.50 89.9 251.83 96.1 252.17 85.6 252.50 97.9 252.83 90.9 253.17 97.9 253.50 86.3 253.83 96.9 254.17 90.8 254.50 97.8 254.83 88.0 255.17 95.6 255.50 91.2 255.83 95.5 256.17 85.6 256.50 97.6 256.83 87.5 257.17 98.7 257.50 90.5 257.83 100.9 258.17 83.7 258.50 100.0 258.83 83.7 259.17 96.1 259.50 83.1 259.83 102.1 260.17 85.0 260.50 99.4 260.83 90.7 261.17 93.8 261.50 86.0 261.83 95.6 262.17 89.1 262.50 97.6 262.83 90.9 263.17 95.8 263.50 86.3 263.83 97.8 264.17 90.9 264.50 93.1 264.83 86.1 265.17 100.1 265.50 85.7 265.83 98.1 266.17 90.0 266.50 98.5 266.83 90.2 267.17 100.1 267.50 88.7 267.83 92.4 268.17 90.7 268.50 97.3 268.83 89.4 269.17 93.6 269.50 91.3 269.83 95.5 270.17 87.0 270.50 93.5 270.83 87.1 271.17 94.8 271.50 86.0 271.83 96.9 272.17 84.8 272.50 93.2 272.83 86.9 273.17 100.4 273.50 91.9 273.83 95.4 274.17 85.7 274.50 99.6 274.83 86.4 275.17 85.4 275.50 90.1 275.83 96.3 276.17 86.8 276.50 97.9 276.83 87.6 277.17 95.4 277.50 87.5 277.83 97.2 278.17 88.3 278.50 93.1 278.83 88.5 279.17 98.1 279.50 87.5 279.83 97.6 280.17 86.7 280.50 94.7 280.83 86.5 281.17 93.3 281.50 90.2 281.83 93.5 282.17 89.0 282.50 95.6 282.83 90.7 283.17 99.1 283.50 92.0 283.83 94.3 284.17 90.0 284.50 96.0 284.83 92.5 285.17 96.3 285.50 88.1 285.83 98.4 286.17 86.6 286.50 94.8 286.83 85.4 287.17 99.5 287.50 85.2 287.83 95.2 288.17 90.0 288.50 97.2 288.83 86.4 289.17 95.5 289.50 90.5 289.83 96.3 290.17 92.3 290.50 99.2 290.83 91.1 291.17 98.0 291.50 88.9 291.83 97.0 292.17 88.2 292.50 94.3 292.83 90.6 293.17 96.9 293.50 89.1 293.83 93.1 294.17 89.0 294.50 97.0 294.83 86.5 295.17 97.3 295.50 91.6 295.83 93.3 296.17 87.1 296.50 94.8 296.83 90.4 297.17 93.2 297.50 88.9 297.83 92.8 298.17 90.9 298.50 92.8 298.83 92.2 299.17 93.1 299.50 91.9 299.83 92.6 300.17 92.0 300.50 92.7 300.83 91.9 301.17 93.1 301.50 91.9 301.83 93.1 302.17 91.6 302.50 93.1 302.83 91.7 303.17 93.2 303.50 91.8 303.83 93.0 304.17 92.1 304.50 92.7 304.83 91.8 305.17 92.9 305.50 92.3 305.83 92.7 306.17 92.0 306.50 93.3 306.83 91.5 307.17 92.9 307.50 92.2 307.83 93.1 308.17 92.0 308.50 92.7 308.83 92.0 309.17 92.6 309.50 92.3 309.83 92.9 310.17 92.2 310.50 92.5 310.83 92.1 311.17 92.6 311.50 91.8 311.83 92.8 312.17 92.0 312.50 93.1 312.83 92.0 313.17 93.0 313.50 92.0 313.83 93.1 314.17 92.1 314.50 92.8 314.83 91.7 315.17 92.7 315.50 92.0 315.83 93.0 316.17 91.7 316.50 92.8 316.83 91.8 317.17 92.7 317.50 91.7 317.83 92.5 318.17 91.6 318.50 92.8 318.83 91.9 319.17 93.1 319.50 91.9 319.83 92.5 320.17 91.6 320.50 92.8 320.83 91.5 321.17 92.5 321.50 91.6 321.83 93.1 322.17 91.8 322.50 93.0 322.83 92.0 323.17 92.7 323.50 91.8 323.83 93.0 324.17 91.8 324.50 92.4 324.83 91.6 325.17 93.1 325.50 91.8 325.83 93.1 326.17 91.9 326.50 92.9 326.83 92.3 327.17 93.0 327.50 91.8 327.83 93.5 328.17 92.2 328.50 93.7 328.83 91.5 329.17 94.1 329.50 91.0 329.83 93.5 330.17 89.8 330.50 93.6 330.83 90.7 331.17 94.6 331.50 91.3 331.83 93.0 332.17 92.0 332.50 93.3 332.83 92.5 333.17 93.7 333.50 91.6 333.83 92.5 334.17 92.1 334.50 92.6 334.83 91.3 335.17 93.2 335.50 90.4 335.83 94.6 336.17 87.8 336.50 95.4 336.83 91.8 337.17 93.9 337.50 88.7 337.83 94.3 338.17 90.3 338.50 93.8 338.83 92.2 339.17 92.9 339.50 92.0 339.83 92.8 340.17 91.3 340.50 93.1 340.83 90.6 341.17 93.0 341.50 90.0 341.83 93.5 342.17 89.1 342.50 96.0 342.83 90.4 343.17 92.6 343.50 91.8 343.83 94.0 344.17 91.6 344.50 93.2 344.83 91.2 345.17 93.4 345.50 91.1 345.83 93.2 346.17 91.9 346.50 93.1 346.83 91.7 347.17 93.4 347.50 90.5 347.83 95.0 348.17 91.2 348.50 96.2 348.83 88.4 349.17 94.7 349.50 89.7 349.83 94.2 350.17 89.9 350.50 94.1 350.83 90.3 351.17 92.6 351.50 92.3 351.83 93.3 352.17 92.1 352.50 93.6 352.83 92.4 353.17 93.0 353.50 91.5 353.83 94.2 354.17 91.4 354.50 93.9 354.83 90.8 355.17 93.5 355.50 90.8 355.83 95.4 356.17 90.4 356.50 93.6 356.83 91.4 357.17 95.4 357.50 91.9 357.83 94.3 358.17 91.4 358.50 93.4 358.83 92.4 359.17 93.5 359.50 92.0 359.83 94.5 360.17 90.3 360.50 94.4 360.83 90.1 361.17 96.5 361.50 89.0 361.83 96.3 362.17 90.9 362.50 93.3 362.83 90.1 363.17 92.8 363.50 92.2 363.83 93.5 364.17 91.6 364.50 92.8 364.83 91.7 365.17 93.2 365.50 92.0 365.83 92.5 366.17 92.1 366.50 93.2 366.83 91.8 367.17 92.8 367.50 90.8 367.83 94.2 368.17 89.2 368.50 96.4 368.83 89.8 369.17 96.4 369.50 91.2 369.83 93.7 370.17 91.6 370.50 93.1 370.83 92.0 371.17 92.8 371.50 91.3 371.83 92.4 372.17 91.9 372.50 92.5 372.83 91.4 373.17 94.5 373.50 92.5 373.83 93.4 374.17 90.2 374.50 94.7 374.83 91.1 375.17 95.3 375.50 91.7 375.83 94.3 376.17 91.4 376.50 92.9 376.83 91.1 377.17 92.9 377.50 92.0 377.83 92.7 378.17 91.5 378.50 92.8 378.83 92.0 379.17 92.3 379.50 92.1 379.83 92.6 380.17 91.2 380.50 95.9 380.83 89.7 381.17 93.0 381.50 89.4 381.83 93.8 382.17 89.4 382.50 94.9 382.83 91.4 383.17 93.4 383.50 92.1 383.83 92.8" stroke="#000" stroke-width="0.32" fill="none" stroke-linejoin="round"/>
<path d="M32.50 129.4 32.83 128.3 33.17 130.2 33.50 128.6 33.83 129.7 34.17 127.9 34.50 130.5 34.83 127.4 35.17 129.3 35.50 127.4 35.83 130.1 36.17 127.8 36.50 129.4 36.83 128.1 37.17 130.3 37.50 128.7 37.83 130.6 38.17 128.2 38.50 130.5 38.83 127.4 39.17 131.0 39.50 127.2 39.83 129.8 40.17 128.4 40.50 129.9 40.83 127.4 41.17 129.6 41.50 127.9 41.83 129.2 42.17 127.4 42.50 129.4 42.83 127.5 43.17 131.2 43.50 126.0 43.83 129.0 44.17 126.9 44.50 130.6 44.83 125.6 45.17 129.8 45.50 127.3 45.83 130.4 46.17 126.6 46.50 129.8 46.83 128.1 47.17 130.5 47.50 128.1 47.83 129.1 48.17 128.3 48.50 130.2 48.83 128.0 49.17 129.6 49.50 128.4 49.83 129.3 50.17 128.9 50.50 131.5 50.83 127.9 51.17 129.4 51.50 126.3 51.83 129.6 52.17 128.4 52.50 129.9 52.83 128.8 53.17 129.5 53.50 127.6 53.83 130.7 54.17 127.2 54.50 130.0 54.83 128.2 55.17 130.6 55.50 127.6 55.83 130.1 56.17 127.6 56.50 131.2 56.83 127.8 57.17 130.5 57.50 127.5 57.83 129.9 58.17 127.8 58.50 130.8 58.83 128.3 59.17 128.8 59.50 126.5 59.83 128.6 60.17 126.6 60.50 130.6 60.83 128.1 61.17 129.6 61.50 127.0 61.83 130.6 62.17 127.6 62.50 131.6 62.83 126.2 63.17 129.0 63.50 125.8 63.83 131.2 64.17 126.3 64.50 131.0 64.83 126.4 65.17 129.3 65.50 126.9 65.83 129.5 66.17 128.4 66.50 131.0 66.83 127.2 67.17 129.9 67.50 127.2 67.83 129.9 68.17 128.0 68.50 130.0 68.83 127.9 69.17 131.8 69.50 127.4 69.83 131.4 70.17 126.1 70.50 129.5 70.83 126.5 71.17 129.6 71.50 127.7 71.83 130.2 72.17 128.1 72.50 129.2 72.83 126.7 73.17 129.9 73.50 127.7 73.83 130.0 74.17 126.4 74.50 131.1 74.83 126.2 75.17 131.3 75.50 127.7 75.83 130.6 76.17 127.7 76.50 129.9 76.83 126.5 77.17 130.0 77.50 127.1 77.83 129.4 78.17 128.6 78.50 131.1 78.83 125.8 79.17 129.7 79.50 127.7 79.83 131.2 80.17 126.9 80.50 132.9 80.83 126.9 81.17 130.5 81.50 127.8 81.83 129.7 82.17 127.9 82.50 129.2 82.83 128.6 83.17 129.2 83.50 128.3 83.83 130.5 84.17 127.8 84.50 128.9 84.83 126.7 85.17 129.6 85.50 127.9 85.83 130.4 86.17 127.5 86.50 129.5 86.83 128.2 87.17 130.9 87.50 126.7 87.83 130.9 88.17 127.9 88.50 130.9 88.83 127.4 89.17 129.9 89.50 126.9 89.83 130.6 90.17 128.7 90.50 130.8 90.83 128.7 91.17 129.6 91.50 127.3 91.83 130.8 92.17 125.9 92.50 130.3 92.83 126.9 93.17 130.1 93.50 126.5 93.83 131.2 94.17 126.9 94.50 130.5 94.83 128.6 95.17 129.4 95.50 127.3 95.83 128.6 96.17 128.4 96.50 129.3 96.83 127.4 97.17 129.4 97.50 127.7 97.83 130.3 98.17 127.6 98.50 129.0 98.83 127.6 99.17 129.7 99.50 127.7 99.83 129.6 100.17 127.8 100.50 129.3 100.83 127.2 101.17 129.8 101.50 128.9 101.83 129.3 102.17 127.7 102.50 129.8 102.83 128.1 103.17 129.6 103.50 127.3 103.83 130.8 104.17 128.6 104.50 131.7 104.83 127.5 105.17 131.4 105.50 128.7 105.83 130.8 106.17 125.4 106.50 130.3 106.83 127.3 107.17 130.2 107.50 126.9 107.83 130.9 108.17 126.9 108.50 130.1 108.83 127.5 109.17 130.2 109.50 127.3 109.83 130.7 110.17 126.4 110.50 130.7 110.83 126.4 111.17 131.4 111.50 128.1 111.83 130.8 112.17 128.1 112.50 130.0 112.83 128.3 113.17 131.5 113.50 128.1 113.83 132.6 114.17 128.4 114.50 132.1 114.83 125.4 115.17 131.3 115.50 125.8 115.83 132.4 116.17 126.2 116.50 131.8 116.83 126.6 117.17 129.8 117.50 126.7 117.83 131.2 118.17 126.7 118.50 130.1 118.83 125.2 119.17 132.6 119.50 125.3 119.83 132.3 120.17 127.3 120.50 129.8 120.83 126.9 121.17 130.8 121.50 127.9 121.83 130.7 122.17 127.0 122.50 130.3 122.83 127.7 123.17 129.1 123.50 128.5 123.83 130.6 124.17 127.1 124.50 129.9 124.83 126.6 125.17 130.0 125.50 127.4 125.83 129.1 126.17 125.6 126.50 128.5 126.83 125.9 127.17 131.1 127.50 127.8 127.83 131.2 128.17 125.9 128.50 130.6 128.83 127.5 129.17 130.0 129.50 126.3 129.83 129.1 130.17 128.2 130.50 129.3 130.83 127.4 131.17 131.1 131.50 127.0 131.83 130.8 132.17 128.3 132.50 130.2 132.83 126.6 133.17 129.6 133.50 127.9 133.83 129.9 134.17 127.9 134.50 129.6 134.83 127.4 135.17 129.9 135.50 128.0 135.83 129.6 136.17 127.8 136.50 130.0 136.83 127.3 137.17 130.5 137.50 127.1 137.83 131.1 138.17 128.3 138.50 130.6 138.83 127.8 139.17 131.8 139.50 127.3 139.83 130.1 140.17 126.4 140.50 130.6 140.83 126.4 141.17 133.8 141.50 127.3 141.83 133.9 142.17 123.8 142.50 130.1 142.83 126.5 143.17 133.5 143.50 125.0 143.83 135.6 144.17 126.4 144.50 131.6 144.83 124.5 145.17 132.9 145.50 122.2 145.83 132.1 146.17 124.8 146.50 137.8 146.83 127.3 147.17 134.6 147.50 120.8 147.83 135.0 148.17 123.5 148.50 133.7 148.83 123.7 149.17 130.1 149.50 121.0 149.83 130.0 150.17 121.9 150.50 133.6 150.83 123.8 151.17 131.4 151.50 124.0 151.83 131.7 152.17 123.7 152.50 136.0 152.83 127.0 153.17 134.8 153.50 128.0 153.83 132.3 154.17 126.5 154.50 131.4 154.83 127.9 155.17 130.5 155.50 126.1 155.83 135.4 156.17 126.0 156.50 130.9 156.83 126.9 157.17 134.0 157.50 128.4 157.83 133.0 158.17 127.5 158.50 132.4 158.83 125.1 159.17 132.5 159.50 123.4 159.83 131.1 160.17 126.0 160.50 131.4 160.83 128.4 161.17 132.4 161.50 126.2 161.83 131.4 162.17 124.4 162.50 134.1 162.83 124.3 163.17 134.4 163.50 124.3 163.83 132.0 164.17 127.3 164.50 130.2 164.83 124.2 165.17 134.0 165.50 123.6 165.83 132.7 166.17 125.7 166.50 131.0 166.83 123.3 167.17 129.8 167.50 120.8 167.83 131.3 168.17 121.1 168.50 131.8 168.83 128.0 169.17 132.5 169.50 125.9 169.83 134.6 170.17 127.3 170.50 130.6 170.83 125.0 171.17 136.9 171.50 124.3 171.83 133.2 172.17 129.2 172.50 132.1 172.83 124.1 173.17 133.2 173.50 125.6 173.83 132.5 174.17 126.5 174.50 135.5 174.83 125.6 175.17 133.4 175.50 129.4 175.83 132.2 176.17 127.8 176.50 130.2 176.83 124.8 177.17 131.8 177.50 127.5 177.83 134.4 178.17 125.9 178.50 130.7 178.83 124.1 179.17 132.1 179.50 124.0 179.83 134.5 180.17 128.8 180.50 131.3 180.83 125.3 181.17 129.1 181.50 122.9 181.83 130.1 182.17 124.5 182.50 133.7 182.83 125.4 183.17 133.2 183.50 126.4 183.83 132.2 184.17 128.4 184.50 130.7 184.83 125.2 185.17 131.1 185.50 124.4 185.83 132.8 186.17 125.8 186.50 128.8 186.83 121.7 187.17 133.4 187.50 121.4 187.83 133.1 188.17 124.5 188.50 131.1 188.83 126.2 189.17 134.8 189.50 119.6 189.83 136.6 190.17 125.1 190.50 130.2 190.83 122.5 191.17 137.3 191.50 122.2 191.83 134.2 192.17 120.2 192.50 130.5 192.83 127.4 193.17 136.7 193.50 121.5 193.83 132.0 194.17 124.4 194.50 132.4 194.83 125.7 195.17 133.9 195.50 128.7 195.83 131.0 196.17 124.6 196.50 133.4 196.83 128.5 197.17 134.9 197.50 124.2 197.83 130.2 198.17 128.5 198.50 134.3 198.83 128.5 199.17 132.0 199.50 127.7 199.83 133.6 200.17 124.0 200.50 130.8 200.83 124.5 201.17 135.3 201.50 126.2 201.83 131.7 202.17 120.8 202.50 129.5 202.83 122.2 203.17 136.0 203.50 124.4 203.83 135.5 204.17 127.3 204.50 136.0 204.83 128.1 205.17 135.5 205.50 127.6 205.83 132.9 206.17 122.9 206.50 132.1 206.83 123.4 207.17 134.6 207.50 126.3 207.83 132.8 208.17 123.1 208.50 133.3 208.83 126.2 209.17 129.6 209.50 126.9 209.83 133.8 210.17 124.2 210.50 130.1 210.83 127.5 211.17 130.5 211.50 126.7 211.83 129.9 212.17 127.6 212.50 130.8 212.83 126.1 213.17 132.2 213.50 127.8 213.83 131.3 214.17 125.4 214.50 131.3 214.83 127.2 215.17 132.8 215.50 125.2 215.83 131.9 216.17 127.0 216.50 133.8 216.83 124.5 217.17 130.9 217.50 122.9 217.83 132.8 218.17 126.3 218.50 134.1 218.83 123.6 219.17 135.1 219.50 122.8 219.83 136.3 220.17 127.0 220.50 135.5 220.83 121.9 221.17 130.6 221.50 123.1 221.83 132.7 222.17 124.6 222.50 137.3 222.83 123.6 223.17 133.1 223.50 126.9 223.83 130.7 224.17 124.3 224.50 132.6 224.83 121.7 225.17 133.6 225.50 121.8 225.83 136.6 226.17 127.9 226.50 134.0 226.83 125.6 227.17 130.6 227.50 125.0 227.83 134.2 228.17 126.6 228.50 129.3 228.83 121.2 229.17 135.0 229.50 124.2 229.83 131.8 230.17 123.6 230.50 128.9 230.83 123.0 231.17 131.0 231.50 121.4 231.83 132.4 232.17 124.4 232.50 129.7 232.83 127.5 233.17 131.3 233.50 122.6 233.83 136.4 234.17 128.3 234.50 132.1 234.83 123.9 235.17 130.4 235.50 122.0 235.83 129.6 236.17 125.2 236.50 130.5 236.83 122.3 237.17 132.4 237.50 126.2 237.83 135.1 238.17 127.8 238.50 136.1 238.83 126.0 239.17 133.1 239.50 121.8 239.83 131.4 240.17 124.4 240.50 130.6 240.83 128.5 241.17 132.6 241.50 129.2 241.83 134.5 242.17 123.7 242.50 129.5 242.83 124.9 243.17 131.1 243.50 125.4 243.83 130.8 244.17 127.7 244.50 133.8 244.83 123.5 245.17 134.8 245.50 123.8 245.83 134.9 246.17 123.9 246.50 132.2 246.83 123.1 247.17 129.3 247.50 128.1 247.83 130.4 248.17 126.4 248.50 134.4 248.83 123.9 249.17 130.5 249.50 124.9 249.83 130.5 250.17 126.8 250.50 130.6 250.83 120.8 251.17 135.3 251.50 126.7 251.83 130.0 252.17 123.4 252.50 136.9 252.83 122.4 253.17 135.5 253.50 122.7 253.83 129.5 254.17 125.7 254.50 131.5 254.83 125.9 255.17 133.6 255.50 125.0 255.83 134.5 256.17 128.1 256.50 133.3 256.83 123.9 257.17 129.5 257.50 127.9 257.83 132.1 258.17 124.2 258.50 132.6 258.83 122.2 259.17 128.7 259.50 121.6 259.83 129.4 260.17 122.1 260.50 136.0 260.83 123.6 261.17 131.7 261.50 123.8 261.83 132.5 262.17 126.3 262.50 140.0 262.83 122.9 263.17 132.1 263.50 126.4 263.83 132.4 264.17 128.8 264.50 130.7 264.83 127.2 265.17 132.7 265.50 124.7 265.83 130.5 266.17 128.2 266.50 130.7 266.83 120.0 267.17 129.7 267.50 123.4 267.83 132.6 268.17 123.9 268.50 133.7 268.83 124.8 269.17 132.0 269.50 118.3 269.83 138.1 270.17 122.9 270.50 136.5 270.83 124.8 271.17 135.8 271.50 120.8 271.83 135.6 272.17 124.4 272.50 132.1 272.83 124.1 273.17 120.8 273.50 120.8 273.83 129.5 274.17 127.5 274.50 134.7 274.83 128.0 275.17 137.0 275.50 122.6 275.83 131.4 276.17 125.4 276.50 131.2 276.83 122.7 277.17 135.8 277.50 122.2 277.83 137.6 278.17 127.1 278.50 135.4 278.83 121.6 279.17 135.3 279.50 123.1 279.83 133.1 280.17 121.6 280.50 129.5 280.83 123.0 281.17 129.6 281.50 125.4 281.83 134.6 282.17 124.4 282.50 130.7 282.83 127.5 283.17 132.9 283.50 126.1 283.83 132.1 284.17 123.1 284.50 131.5 284.83 126.4 285.17 130.7 285.50 125.7 285.83 129.4 286.17 123.6 286.50 134.3 286.83 128.6 287.17 132.4 287.50 128.3 287.83 130.5 288.17 124.3 288.50 130.4 288.83 128.2 289.17 132.6 289.50 122.3 289.83 131.0 290.17 126.8 290.50 128.7 290.83 121.2 291.17 137.1 291.50 124.3 291.83 133.6 292.17 125.2 292.50 130.1 292.83 119.5 293.17 130.0 293.50 123.7 293.83 135.3 294.17 123.4 294.50 132.4 294.83 128.5 295.17 130.5 295.50 126.6 295.83 132.0 296.17 126.3 296.50 133.7 296.83 124.4 297.17 131.4 297.50 127.1 297.83 130.4 298.17 128.2 298.50 129.2 298.83 128.6 299.17 128.9 299.50 128.5 299.83 129.2 300.17 128.6 300.50 129.4 300.83 128.2 301.17 128.9 301.50 128.4 301.83 129.4 302.17 128.5 302.50 129.4 302.83 128.1 303.17 129.1 303.50 128.2 303.83 128.8 304.17 128.0 304.50 129.3 304.83 128.6 305.17 129.4 305.50 128.6 305.83 129.6 306.17 128.5 306.50 128.9 306.83 128.0 307.17 129.3 307.50 128.6 307.83 129.7 308.17 128.0 308.50 129.4 308.83 128.2 309.17 129.7 309.50 128.2 309.83 129.5 310.17 128.6 310.50 129.6 310.83 128.1 311.17 129.4 311.50 127.9 311.83 129.3 312.17 128.2 312.50 129.3 312.83 128.0 313.17 128.8 313.50 127.9 313.83 129.5 314.17 128.6 314.50 129.3 314.83 128.3 315.17 129.3 315.50 128.4 315.83 129.9 316.17 127.8 316.50 129.0 316.83 128.4 317.17 128.8 317.50 128.5 317.83 129.1 318.17 128.5 318.50 129.0 318.83 128.4 319.17 129.2 319.50 128.4 319.83 128.9 320.17 127.8 320.50 129.2 320.83 128.5 321.17 129.4 321.50 128.2 321.83 129.2 322.17 128.4 322.50 129.5 322.83 128.2 323.17 129.1 323.50 128.7 323.83 129.0 324.17 128.5 324.50 129.0 324.83 128.4 325.17 129.3 325.50 128.4 325.83 129.4 326.17 128.2 326.50 129.4 326.83 128.2 327.17 129.2 327.50 128.3 327.83 129.0 328.17 128.4 328.50 129.7 328.83 127.8 329.17 129.3 329.50 125.5 329.83 131.7 330.17 125.3 330.50 131.5 330.83 127.0 331.17 129.3 331.50 128.4 331.83 129.5 332.17 128.1 332.50 129.3 332.83 128.7 333.17 129.0 333.50 128.5 333.83 129.1 334.17 127.9 334.50 129.5 334.83 127.4 335.17 129.6 335.50 128.9 335.83 132.6 336.17 124.0 336.50 132.5 336.83 126.8 337.17 130.7 337.50 127.2 337.83 130.3 338.17 126.5 338.50 129.5 338.83 127.7 339.17 130.1 339.50 128.5 339.83 129.9 340.17 126.7 340.50 130.5 340.83 128.3 341.17 129.4 341.50 127.0 341.83 130.7 342.17 125.6 342.50 129.7 342.83 125.6 343.17 131.4 343.50 126.7 343.83 128.9 344.17 126.8 344.50 129.0 344.83 128.5 345.17 129.0 345.50 127.7 345.83 129.0 346.17 128.0 346.50 128.9 346.83 128.0 347.17 129.2 347.50 128.4 347.83 130.0 348.17 127.4 348.50 131.6 348.83 126.7 349.17 129.1 349.50 125.2 349.83 130.8 350.17 125.9 350.50 130.7 350.83 127.5 351.17 130.3 351.50 127.7 351.83 130.0 352.17 127.9 352.50 129.7 352.83 128.4 353.17 129.9 353.50 127.8 353.83 129.1 354.17 128.3 354.50 130.1 354.83 127.7 355.17 132.4 355.50 126.1 355.83 130.3 356.17 126.6 356.50 129.5 356.83 128.1 357.17 129.8 357.50 127.0 357.83 129.4 358.17 128.1 358.50 129.1 358.83 127.9 359.17 128.7 359.50 127.6 359.83 130.0 360.17 126.4 360.50 129.0 360.83 127.6 361.17 132.3 361.50 124.2 361.83 129.9 362.17 127.1 362.50 129.0 362.83 126.2 363.17 129.0 363.50 127.5 363.83 129.6 364.17 128.3 364.50 128.8 364.83 128.2 365.17 129.1 365.50 128.5 365.83 129.3 366.17 128.2 366.50 130.4 366.83 128.7 367.17 130.5 367.50 127.4 367.83 131.6 368.17 124.8 368.50 132.4 368.83 125.5 369.17 130.5 369.50 125.0 369.83 131.0 370.17 127.6 370.50 130.0 370.83 128.3 371.17 129.8 371.50 127.8 371.83 129.1 372.17 128.1 372.50 129.1 372.83 127.6 373.17 129.1 373.50 127.8 373.83 131.3 374.17 128.1 374.50 129.1 374.83 125.6 375.17 129.9 375.50 128.0 375.83 129.0 376.17 128.3 376.50 129.2 376.83 127.8 377.17 128.9 377.50 128.0 377.83 129.4 378.17 128.8 378.50 129.2 378.83 128.3 379.17 129.8 379.50 128.5 379.83 129.6 380.17 126.7 380.50 129.6 380.83 126.6 381.17 133.4 381.50 124.2 381.83 131.5 382.17 126.9 382.50 129.1 382.83 128.2 383.17 129.0 383.50 128.0 383.83 129.6" stroke="#000" stroke-width="0.32" fill="none" stroke-linejoin="round"/>
<path d="M32.50 166.5 32.83 164.3 33.17 165.8 33.50 164.4 33.83 167.7 34.17 162.8 34.50 167.1 34.83 163.3 35.17 166.6 35.50 163.6 35.83 164.7 36.17 163.3 36.50 166.6 36.83 163.2 37.17 165.4 37.50 164.0 37.83 165.6 38.17 163.6 38.50 164.7 38.83 161.7 39.17 167.4 39.50 164.0 39.83 167.6 40.17 164.2 40.50 165.0 40.83 163.0 41.17 166.0 41.50 164.4 41.83 166.5 42.17 164.2 42.50 165.3 42.83 163.0 43.17 165.3 43.50 163.9 43.83 166.6 44.17 163.5 44.50 164.8 44.83 163.0 45.17 165.9 45.50 162.6 45.83 165.4 46.17 163.0 46.50 165.5 46.83 163.4 47.17 165.9 47.50 162.6 47.83 164.6 48.17 163.8 48.50 165.9 48.83 163.0 49.17 165.4 49.50 163.4 49.83 166.5 50.17 163.3 50.50 165.5 50.83 163.8 51.17 167.3 51.50 163.1 51.83 166.8 52.17 160.1 52.50 168.2 52.83 159.3 53.17 165.9 53.50 161.7 53.83 167.8 54.17 164.1 54.50 165.9 54.83 163.3 55.17 166.6 55.50 164.2 55.83 165.9 56.17 164.3 56.50 165.4 56.83 162.4 57.17 166.7 57.50 162.1 57.83 167.0 58.17 163.0 58.50 166.4 58.83 164.5 59.17 166.3 59.50 164.2 59.83 165.9 60.17 162.2 60.50 166.4 60.83 162.1 61.17 166.1 61.50 163.2 61.83 167.4 62.17 161.7 62.50 169.4 62.83 164.1 63.17 167.1 63.50 162.5 63.83 166.9 64.17 163.5 64.50 166.0 64.83 161.7 65.17 164.9 65.50 163.8 65.83 165.7 66.17 163.3 66.50 166.9 66.83 162.8 67.17 166.3 67.50 162.5 67.83 165.7 68.17 161.5 68.50 168.2 68.83 162.5 69.17 167.5 69.50 162.6 69.83 164.9 70.17 161.7 70.50 168.6 70.83 163.0 71.17 166.8 71.50 163.7 71.83 167.0 72.17 164.7 72.50 165.9 72.83 163.2 73.17 166.9 73.50 162.5 73.83 167.1 74.17 164.0 74.50 166.6 74.83 162.8 75.17 168.2 75.50 163.4 75.83 167.6 76.17 163.7 76.50 165.2 76.83 163.9 77.17 164.7 77.50 161.8 77.83 165.7 78.17 163.5 78.50 165.3 78.83 163.1 79.17 168.1 79.50 161.7 79.83 167.3 80.17 162.0 80.50 166.4 80.83 164.3 81.17 166.4 81.50 159.7 81.83 165.5 82.17 160.5 82.50 167.6 82.83 162.7 83.17 166.1 83.50 163.7 83.83 165.3 84.17 163.2 84.50 165.2 84.83 162.4 85.17 165.3 85.50 163.1 85.83 164.3 86.17 160.4 86.50 165.5 86.83 162.8 87.17 168.2 87.50 161.7 87.83 166.3 88.17 160.7 88.50 165.1 88.83 160.1 89.17 168.2 89.50 161.6 89.83 165.4 90.17 162.8 90.50 166.2 90.83 164.2 91.17 167.4 91.50 163.1 91.83 165.6 92.17 163.3 92.50 167.3 92.83 161.7 93.17 166.6 93.50 163.9 93.83 167.4 94.17 162.7 94.50 167.1 94.83 159.0 95.17 168.9 95.50 160.6 95.83 170.7 96.17 158.4 96.50 166.1 96.83 158.5 97.17 165.7 97.50 164.3 97.83 169.6 98.17 161.9 98.50 168.7 98.83 163.6 99.17 165.0 99.50 162.1 99.83 167.1 100.17 161.9 100.50 167.9 100.83 161.4 101.17 169.4 101.50 163.3 101.83 168.4 102.17 162.0 102.50 167.5 102.83 163.6 103.17 167.9 103.50 161.2 103.83 167.6 104.17 162.3 104.50 167.8 104.83 161.4 105.17 165.8 105.50 161.9 105.83 167.5 106.17 163.8 106.50 166.5 106.83 162.6 107.17 166.4 107.50 162.8 107.83 165.7 108.17 164.7 108.50 168.2 108.83 162.1 109.17 166.9 109.50 163.0 109.83 165.2 110.17 162.7 110.50 166.5 110.83 162.9 111.17 166.8 111.50 164.2 111.83 165.8 112.17 162.3 112.50 166.5 112.83 162.6 113.17 165.8 113.50 164.4 113.83 165.4 114.17 162.5 114.50 165.7 114.83 164.2 115.17 166.8 115.50 160.9 115.83 164.8 116.17 163.8 116.50 165.2 116.83 163.1 117.17 166.1 117.50 164.7 117.83 166.4 118.17 162.8 118.50 165.5 118.83 163.3 119.17 165.3 119.50 161.7 119.83 167.3 120.17 162.4 120.50 167.9 120.83 162.0 121.17 166.0 121.50 162.5 121.83 166.8 122.17 163.7 122.50 166.4 122.83 163.5 123.17 165.3 123.50 162.8 123.83 165.5 124.17 161.9 124.50 166.1 124.83 163.3 125.17 165.7 125.50 164.1 125.83 165.7 126.17 161.6 126.50 166.0 126.83 163.0 127.17 168.1 127.50 162.7 127.83 167.6 128.17 163.1 128.50 167.6 128.83 162.6 129.17 166.0 129.50 162.3 129.83 165.4 130.17 162.9 130.50 165.5 130.83 164.5 131.17 166.5 131.50 164.7 131.83 168.9 132.17 161.6 132.50 165.8 132.83 161.2 133.17 165.0 133.50 163.3 133.83 165.5 134.17 164.2 134.50 164.9 134.83 162.3 135.17 164.5 135.50 162.0 135.83 164.9 136.17 163.4 136.50 165.0 136.83 163.0 137.17 164.9 137.50 162.9 137.83 165.5 138.17 162.9 138.50 166.0 138.83 161.4 139.17 164.5 139.50 163.5 139.83 165.9 140.17 162.2 140.50 164.5 140.83 163.3 141.17 164.9 141.50 163.4 141.83 165.4 142.17 161.0 142.50 167.2 142.83 160.0 143.17 166.3 143.50 162.9 143.83 164.7 144.17 162.2 144.50 164.8 144.83 164.4 145.17 168.0 145.50 162.0 145.83 167.7 146.17 162.1 146.50 166.9 146.83 162.8 147.17 167.7 147.50 161.6 147.83 166.4 148.17 161.6 148.50 165.5 148.83 160.6 149.17 165.0 149.50 159.7 149.83 166.7 150.17 162.5 150.50 167.4 150.83 160.3 151.17 169.7 151.50 164.1 151.83 168.6 152.17 160.7 152.50 167.6 152.83 163.5 153.17 166.7 153.50 163.8 153.83 169.3 154.17 165.0 154.50 168.0 154.83 160.6 155.17 167.3 155.50 164.3 155.83 169.9 156.17 161.5 156.50 166.0 156.83 159.9 157.17 169.3 157.50 163.2 157.83 168.5 158.17 163.3 158.50 168.5 158.83 165.0 159.17 172.4 159.50 162.5 159.83 169.7 160.17 163.0 160.50 169.3 160.83 155.6 161.17 170.3 161.50 161.0 161.83 171.0 162.17 158.2 162.50 169.7 162.83 162.6 163.17 167.7 163.50 161.8 163.83 170.4 164.17 159.5 164.50 172.6 164.83 158.6 165.17 166.0 165.50 161.7 165.83 165.9 166.17 154.9 166.50 165.5 166.83 161.1 167.17 168.7 167.50 158.1 167.83 164.9 168.17 158.9 168.50 166.7 168.83 153.1 169.17 167.3 169.50 162.0 169.83 170.6 170.17 161.2 170.50 171.7 170.83 156.8 171.17 170.3 171.50 158.2 171.83 171.7 172.17 159.0 172.50 166.1 172.83 163.2 173.17 171.6 173.50 160.6 173.83 173.1 174.17 161.4 174.50 166.1 174.83 159.5 175.17 167.0 175.50 160.1 175.83 169.2 176.17 157.3 176.50 166.0 176.83 155.8 177.17 175.8 177.50 164.1 177.83 170.8 178.17 159.1 178.50 169.1 178.83 156.5 179.17 170.9 179.50 160.4 179.83 169.5 180.17 159.9 180.50 167.7 180.83 160.4 181.17 176.0 181.50 162.9 181.83 168.8 182.17 161.2 182.50 172.8 182.83 158.8 183.17 166.1 183.50 154.8 183.83 168.1 184.17 155.3 184.50 166.7 184.83 162.2 185.17 174.2 185.50 160.0 185.83 172.9 186.17 152.3 186.50 172.3 186.83 161.5 187.17 176.9 187.50 163.2 187.83 167.6 188.17 150.1 188.50 176.0 188.83 161.8 189.17 168.7 189.50 164.9 189.83 176.3 190.17 161.0 190.50 170.8 190.83 156.5 191.17 152.6 191.50 158.8 191.83 169.0 192.17 154.8 192.50 174.9 192.83 157.0 193.17 165.6 193.50 158.9 193.83 171.4 194.17 160.5 194.50 168.8 194.83 156.5 195.17 180.6 195.50 153.9 195.83 170.5 196.17 151.5 196.50 177.1 196.83 158.6 197.17 175.5 197.50 160.7 197.83 172.7 198.17 154.6 198.50 169.1 198.83 157.2 199.17 170.9 199.50 153.2 199.83 173.0 200.17 161.3 200.50 170.9 200.83 157.2 201.17 168.4 201.50 156.2 201.83 168.2 202.17 159.7 202.50 169.6 202.83 162.5 203.17 168.7 203.50 160.9 203.83 173.2 204.17 161.5 204.50 169.2 204.83 160.4 205.17 165.5 205.50 162.7 205.83 171.6 206.17 162.8 206.50 167.9 206.83 160.4 207.17 165.8 207.50 157.3 207.83 170.2 208.17 155.6 208.50 167.6 208.83 154.7 209.17 165.3 209.50 159.3 209.83 167.0 210.17 159.8 210.50 171.8 210.83 157.8 211.17 168.0 211.50 156.1 211.83 168.8 212.17 161.6 212.50 168.0 212.83 161.5 213.17 168.4 213.50 163.2 213.83 170.3 214.17 158.1 214.50 166.5 214.83 159.0 215.17 171.6 215.50 157.0 215.83 168.0 216.17 156.6 216.50 172.4 216.83 156.9 217.17 167.3 217.50 164.0 217.83 171.2 218.17 163.9 218.50 169.8 218.83 161.6 219.17 167.7 219.50 159.2 219.83 166.1 220.17 160.2 220.50 169.8 220.83 161.0 221.17 170.0 221.50 161.5 221.83 165.4 222.17 164.1 222.50 166.1 222.83 164.5 223.17 169.6 223.50 163.9 223.83 171.0 224.17 163.3 224.50 168.7 224.83 162.0 225.17 167.5 225.50 164.1 225.83 168.9 226.17 161.5 226.50 169.1 226.83 162.9 227.17 169.6 227.50 164.8 227.83 166.8 228.17 159.7 228.50 168.1 228.83 158.5 229.17 172.5 229.50 162.0 229.83 165.9 230.17 157.6 230.50 170.2 230.83 164.1 231.17 170.1 231.50 161.0 231.83 169.3 232.17 157.5 232.50 171.4 232.83 158.6 233.17 165.8 233.50 158.2 233.83 168.1 234.17 158.2 234.50 170.2 234.83 156.7 235.17 166.7 235.50 159.1 235.83 173.8 236.17 161.8 236.50 173.2 236.83 157.0 237.17 173.5 237.50 157.3 237.83 174.3 238.17 161.8 238.50 170.3 238.83 158.0 239.17 169.7 239.50 159.0 239.83 167.6 240.17 163.0 240.50 175.7 240.83 164.0 241.17 171.4 241.50 157.3 241.83 172.5 242.17 156.2 242.50 167.5 242.83 153.9 243.17 172.0 243.50 156.0 243.83 173.7 244.17 155.0 244.50 167.9 244.83 160.0 245.17 170.3 245.50 158.8 245.83 170.2 246.17 162.8 246.50 169.1 246.83 163.8 247.17 175.3 247.50 164.8 247.83 168.3 248.17 158.5 248.50 173.9 248.83 163.1 249.17 170.3 249.50 158.5 249.83 168.8 250.17 160.2 250.50 167.1 250.83 155.4 251.17 168.1 251.50 156.8 251.83 166.5 252.17 160.5 252.50 170.1 252.83 160.2 253.17 167.7 253.50 161.7 253.83 166.0 254.17 157.5 254.50 169.6 254.83 163.8 255.17 170.0 255.50 158.5 255.83 166.8 256.17 159.4 256.50 167.9 256.83 159.2 257.17 169.1 257.50 159.2 257.83 168.8 258.17 163.9 258.50 168.4 258.83 162.0 259.17 165.0 259.50 163.1 259.83 166.4 260.17 161.8 260.50 171.3 260.83 161.8 261.17 170.1 261.50 164.4 261.83 169.6 262.17 163.9 262.50 165.9 262.83 160.7 263.17 166.4 263.50 162.4 263.83 168.7 264.17 163.7 264.50 166.5 264.83 165.3 265.17 167.6 265.50 164.0 265.83 170.4 266.17 159.8 266.50 170.1 266.83 160.5 267.17 165.2 267.50 162.7 267.83 169.7 268.17 158.7 268.50 172.5 268.83 160.9 269.17 170.8 269.50 161.6 269.83 165.3 270.17 163.1 270.50 165.4 270.83 157.7 271.17 171.7 271.50 159.0 271.83 170.7 272.17 160.8 272.50 172.7 272.83 162.1 273.17 172.6 273.50 163.4 273.83 172.5 274.17 155.9 274.50 169.1 274.83 158.7 275.17 171.4 275.50 161.5 275.83 168.5 276.17 161.1 276.50 169.9 276.83 158.8 277.17 168.1 277.50 162.1 277.83 166.7 278.17 155.6 278.50 170.2 278.83 158.6 279.17 172.4 279.50 160.1 279.83 167.9 280.17 160.8 280.50 167.0 280.83 161.1 281.17 164.8 281.50 157.8 281.83 169.8 282.17 160.7 282.50 168.1 282.83 159.6 283.17 166.9 283.50 164.7 283.83 169.5 284.17 159.1 284.50 168.0 284.83 163.7 285.17 170.4 285.50 164.4 285.83 168.5 286.17 164.1 286.50 165.7 286.83 159.3 287.17 164.8 287.50 160.6 287.83 166.7 288.17 160.9 288.50 167.7 288.83 159.8 289.17 168.3 289.50 162.0 289.83 170.4 290.17 161.8 290.50 167.9 290.83 163.4 291.17 168.7 291.50 161.0 291.83 168.0 292.17 160.9 292.50 165.0 292.83 161.1 293.17 167.8 293.50 163.8 293.83 166.9 294.17 163.4 294.50 168.7 294.83 161.6 295.17 166.8 295.50 162.7 295.83 168.5 296.17 159.7 296.50 167.0 296.83 161.6 297.17 168.5 297.50 164.0 297.83 167.4 298.17 162.1 298.50 165.7 298.83 162.7 299.17 166.0 299.50 163.5 299.83 166.2 300.17 164.0 300.50 166.4 300.83 163.3 301.17 165.8 301.50 164.1 301.83 166.4 302.17 164.5 302.50 166.1 302.83 164.3 303.17 165.5 303.50 164.4 303.83 166.2 304.17 163.9 304.50 164.9 304.83 163.7 305.17 165.6 305.50 164.1 305.83 166.2 306.17 164.5 306.50 165.3 306.83 163.9 307.17 165.8 307.50 163.5 307.83 165.3 308.17 163.3 308.50 164.9 308.83 163.8 309.17 164.8 309.50 163.5 309.83 165.0 310.17 163.3 310.50 165.2 310.83 163.6 311.17 164.7 311.50 163.6 311.83 165.7 312.17 163.8 312.50 164.8 312.83 164.4 313.17 164.8 313.50 164.2 313.83 164.8 314.17 163.6 314.50 165.0 314.83 164.3 315.17 165.1 315.50 164.4 315.83 165.5 316.17 163.7 316.50 164.6 316.83 163.8 317.17 164.9 317.50 164.0 317.83 165.1 318.17 164.3 318.50 165.2 318.83 164.2 319.17 165.1 319.50 163.9 319.83 165.4 320.17 164.2 320.50 165.2 320.83 164.5 321.17 164.9 321.50 164.2 321.83 165.0 322.17 164.1 322.50 164.7 322.83 164.0 323.17 165.1 323.50 164.1 323.83 165.3 324.17 163.7 324.50 165.8 324.83 163.8 325.17 165.2 325.50 164.1 325.83 165.3 326.17 163.9 326.50 164.8 326.83 163.5 327.17 165.1 327.50 163.8 327.83 165.9 328.17 163.4 328.50 165.9 328.83 161.8 329.17 167.4 329.50 165.0 329.83 166.2 330.17 161.5 330.50 166.1 330.83 163.6 331.17 165.8 331.50 161.5 331.83 166.0 332.17 163.0 332.50 165.3 332.83 163.3 333.17 167.1 333.50 163.8 333.83 168.3 334.17 163.7 334.50 169.8 334.83 163.5 335.17 167.6 335.50 162.8 335.83 165.4 336.17 162.6 336.50 165.4 336.83 162.5 337.17 166.7 337.50 163.1 337.83 166.7 338.17 162.0 338.50 166.0 338.83 163.1 339.17 165.5 339.50 163.9 339.83 165.3 340.17 163.4 340.50 166.0 340.83 163.4 341.17 165.0 341.50 162.8 341.83 166.9 342.17 163.0 342.50 165.1 342.83 163.5 343.17 167.1 343.50 164.3 343.83 168.5 344.17 162.7 344.50 167.1 344.83 162.7 345.17 167.2 345.50 163.7 345.83 168.2 346.17 163.0 346.50 167.6 346.83 164.3 347.17 166.7 347.50 164.5 347.83 165.4 348.17 164.2 348.50 165.5 348.83 162.8 349.17 165.6 349.50 163.9 349.83 166.8 350.17 162.6 350.50 164.9 350.83 162.0 351.17 167.4 351.50 163.1 351.83 165.2 352.17 162.8 352.50 164.8 352.83 163.0 353.17 165.2 353.50 164.0 353.83 166.4 354.17 163.0 354.50 165.6 354.83 163.8 355.17 168.9 355.50 162.6 355.83 165.6 356.17 162.0 356.50 167.4 356.83 163.2 357.17 166.3 357.50 163.3 357.83 165.0 358.17 162.5 358.50 166.4 358.83 163.1 359.17 167.6 359.50 161.9 359.83 167.1 360.17 162.1 360.50 166.4 360.83 165.0 361.17 168.8 361.50 162.1 361.83 164.9 362.17 162.9 362.50 165.2 362.83 164.5 363.17 167.2 363.50 164.4 363.83 166.2 364.17 162.4 364.50 165.6 364.83 164.5 365.17 167.5 365.50 161.4 365.83 166.3 366.17 162.2 366.50 165.9 366.83 162.7 367.17 165.2 367.50 163.1 367.83 165.2 368.17 164.8 368.50 165.6 368.83 163.5 369.17 167.6 369.50 162.2 369.83 167.3 370.17 163.4 370.50 165.1 370.83 161.7 371.17 165.8 371.50 162.4 371.83 167.0 372.17 163.8 372.50 166.5 372.83 164.1 373.17 165.5 373.50 161.0 373.83 167.3 374.17 163.3 374.50 168.0 374.83 163.6 375.17 167.2 375.50 162.1 375.83 165.7 376.17 162.6 376.50 165.3 376.83 161.1 377.17 165.9 377.50 163.0 377.83 165.3 378.17 162.2 378.50 167.2 378.83 159.9 379.17 164.8 379.50 163.0 379.83 164.7 380.17 161.9 380.50 167.9 380.83 162.0 381.17 167.0 381.50 162.7 381.83 165.9 382.17 164.1 382.50 165.0 382.83 163.6 383.17 166.2 383.50 163.3 383.83 166.2" stroke="#000" stroke-width="0.32" fill="none" stroke-linejoin="round"/>
</g>
<text x="2.00" y="16.70" font-size="12.3" font-weight="bold" text-anchor="start" fill="#000" stroke="#000" stroke-width="0.25" >a</text>
<text x="35.00" y="12.70" font-size="8.5" font-weight="bold" text-anchor="start" fill="#000" stroke="#000" stroke-width="0.25" >Ips. Hipp.</text>
<text x="35.40" y="48.50" font-size="8.5" font-weight="bold" text-anchor="start" fill="#000" stroke="#000" stroke-width="0.25" >Cont. Hipp.</text>
<text x="34.60" y="86.50" font-size="8.5" font-weight="bold" text-anchor="start" fill="#000" stroke="#000" stroke-width="0.25" >Cortex</text>
<text x="34.60" y="123.90" font-size="8.5" font-weight="bold" text-anchor="start" fill="#000" stroke="#000" stroke-width="0.25" >Cortex</text>
<text x="34.60" y="160.00" font-size="8.5" font-weight="bold" text-anchor="start" fill="#000" stroke="#000" stroke-width="0.25" >EMG</text>
<text x="62.80" y="73.00" font-size="5.8" font-weight="bold" fill="#000" stroke="#000" stroke-width="0.3" textLength="16.40" lengthAdjust="spacingAndGlyphs">500µV</text>
<text x="79.40" y="78.80" font-size="5.8" font-weight="bold" fill="#000" stroke="#000" stroke-width="0.3" textLength="5.60" lengthAdjust="spacingAndGlyphs">1s</text>
<path d="M80.7 67.9V73.2H86.7" stroke="#111" stroke-width="0.75" fill="none"/>
<path d="M123.1 183V186.1H299.5V183" stroke="#555" stroke-width="0.9" fill="none"/>
<text x="215.50" y="196.40" font-size="8.5" font-weight="bold" text-anchor="middle" fill="#000" stroke="#000" stroke-width="0.25" >spontaneous seizure</text>
<text x="443.20" y="17.00" font-size="12.3" font-weight="bold" text-anchor="start" fill="#000" stroke="#000" stroke-width="0.25" >b</text>
<line x1="482.35" y1="60.30" x2="482.35" y2="161.60" stroke="#000" stroke-width="1.3"/>
<line x1="482.35" y1="161.10" x2="681.40" y2="161.10" stroke="#000" stroke-width="1.3"/>
<line x1="479.00" y1="161.00" x2="482.40" y2="161.00" stroke="#000" stroke-width="1.3"/>
<text x="477.50" y="164.60" font-size="10" font-weight="bold" text-anchor="end" fill="#000" stroke="#000" stroke-width="0.25" >0</text>
<line x1="479.00" y1="110.95" x2="482.40" y2="110.95" stroke="#000" stroke-width="1.3"/>
<text x="477.50" y="114.55" font-size="10" font-weight="bold" text-anchor="end" fill="#000" stroke="#000" stroke-width="0.25" >50</text>
<line x1="479.00" y1="60.90" x2="482.40" y2="60.90" stroke="#000" stroke-width="1.3"/>
<text x="477.50" y="64.50" font-size="10" font-weight="bold" text-anchor="end" fill="#000" stroke="#000" stroke-width="0.25" >100</text>
<rect x="501.50" y="60.90" width="41.30" height="100.10" fill="#000"/>
<rect x="561.50" y="60.90" width="41.30" height="100.10" fill="#0000ff"/>
<rect x="621.20" y="150.99" width="41.30" height="10.01" fill="#ff0000"/>
<text x="514.70" y="172.60" font-size="10.5" font-weight="bold" fill="#000" stroke="#000" stroke-width="0.25" textLength="15.20" lengthAdjust="spacingAndGlyphs">KA</text>
<text x="508.50" y="187.30" font-size="10.5" font-weight="bold" fill="#000" stroke="#000" stroke-width="0.25" textLength="25.50" lengthAdjust="spacingAndGlyphs"><tspan font-style="italic">N</tspan> = 9</text>
<text x="565.50" y="172.60" font-size="10.5" font-weight="bold" fill="#000" stroke="#000" stroke-width="0.25" textLength="32.80" lengthAdjust="spacingAndGlyphs">Scram</text>
<text x="567.30" y="187.30" font-size="10.5" font-weight="bold" fill="#000" stroke="#000" stroke-width="0.25" textLength="25.50" lengthAdjust="spacingAndGlyphs"><tspan font-style="italic">N</tspan> = 7</text>
<text x="625.70" y="172.60" font-size="10.5" font-weight="bold" fill="#000" stroke="#000" stroke-width="0.25" textLength="31.90" lengthAdjust="spacingAndGlyphs">Scn8a</text>
<text x="625.70" y="187.30" font-size="10.5" font-weight="bold" fill="#000" stroke="#000" stroke-width="0.25" textLength="31.00" lengthAdjust="spacingAndGlyphs"><tspan font-style="italic">N</tspan> = 10</text>
<path d="M521 41.9V36.4H645.1V41.9" stroke="#000" stroke-width="1.1" fill="none"/>
<path d="M581.6 55.7V50.7H645.1V55.7" stroke="#000" stroke-width="1.1" fill="none"/>
<text x="574.60" y="36.20" font-size="12" font-weight="bold" fill="#000" stroke="#000" stroke-width="0.25" textLength="15.40" lengthAdjust="spacingAndGlyphs">***</text>
<text x="604.60" y="50.50" font-size="12" font-weight="bold" fill="#000" stroke="#000" stroke-width="0.25" textLength="14.90" lengthAdjust="spacingAndGlyphs">***</text>
<text x="0" y="0" font-size="10.5" font-weight="bold" stroke="#000" stroke-width="0.25" textLength="89.10" lengthAdjust="spacingAndGlyphs" transform="translate(453.00 154.20) rotate(-90)">% of mice seizing</text>
<text x="1.90" y="222.50" font-size="12.3" font-weight="bold" text-anchor="start" fill="#000" stroke="#000" stroke-width="0.25" >c</text>
<line x1="33.40" y1="232.85" x2="33.40" y2="384.05" stroke="#000" stroke-width="1.3"/>
<line x1="33.40" y1="383.45" x2="344.00" y2="383.45" stroke="#000" stroke-width="1.3"/>
<line x1="29.60" y1="383.45" x2="33.40" y2="383.45" stroke="#000" stroke-width="1.3"/>
<text x="29.00" y="387.05" font-size="10" font-weight="bold" text-anchor="end" fill="#000" stroke="#000" stroke-width="0.25" >0</text>
<line x1="29.60" y1="353.45" x2="33.40" y2="353.45" stroke="#000" stroke-width="1.3"/>
<text x="29.00" y="357.05" font-size="10" font-weight="bold" text-anchor="end" fill="#000" stroke="#000" stroke-width="0.25" >5</text>
<line x1="29.60" y1="323.45" x2="33.40" y2="323.45" stroke="#000" stroke-width="1.3"/>
<text x="29.00" y="327.05" font-size="10" font-weight="bold" text-anchor="end" fill="#000" stroke="#000" stroke-width="0.25" >10</text>
<line x1="29.60" y1="293.45" x2="33.40" y2="293.45" stroke="#000" stroke-width="1.3"/>
<text x="29.00" y="297.05" font-size="10" font-weight="bold" text-anchor="end" fill="#000" stroke="#000" stroke-width="0.25" >15</text>
<line x1="29.60" y1="263.45" x2="33.40" y2="263.45" stroke="#000" stroke-width="1.3"/>
<text x="29.00" y="267.05" font-size="10" font-weight="bold" text-anchor="end" fill="#000" stroke="#000" stroke-width="0.25" >20</text>
<line x1="29.60" y1="233.45" x2="33.40" y2="233.45" stroke="#000" stroke-width="1.3"/>
<text x="29.00" y="237.05" font-size="10" font-weight="bold" text-anchor="end" fill="#000" stroke="#000" stroke-width="0.25" >25</text>
<rect x="34.90" y="382.25" width="10.40" height="1.20" fill="#000"/>
<rect x="74.35" y="372.05" width="10.40" height="11.40" fill="#000"/>
<rect x="84.75" y="375.65" width="10.40" height="7.80" fill="#0000ff"/>
<rect x="113.80" y="366.65" width="10.40" height="16.80" fill="#000"/>
<rect x="124.20" y="349.25" width="10.40" height="34.20" fill="#0000ff"/>
<rect x="134.60" y="377.75" width="10.40" height="5.70" fill="#ff0000"/>
<rect x="153.25" y="345.65" width="10.40" height="37.80" fill="#000"/>
<rect x="163.65" y="321.95" width="10.40" height="61.50" fill="#0000ff"/>
<rect x="192.70" y="324.65" width="10.40" height="58.80" fill="#000"/>
<rect x="203.10" y="301.25" width="10.40" height="82.20" fill="#0000ff"/>
<rect x="213.50" y="382.73" width="10.40" height="0.72" fill="#ff0000"/>
<rect x="232.15" y="346.55" width="10.40" height="36.90" fill="#000"/>
<rect x="242.55" y="304.55" width="10.40" height="78.90" fill="#0000ff"/>
<rect x="252.95" y="381.05" width="10.40" height="2.40" fill="#ff0000"/>
<rect x="271.60" y="351.65" width="10.40" height="31.80" fill="#000"/>
<rect x="282.00" y="358.25" width="10.40" height="25.20" fill="#0000ff"/>
<rect x="292.40" y="382.25" width="10.40" height="1.20" fill="#ff0000"/>
<rect x="311.05" y="326.45" width="10.40" height="57.00" fill="#000"/>
<rect x="321.45" y="351.95" width="10.40" height="31.50" fill="#0000ff"/>
<rect x="331.85" y="378.65" width="10.40" height="4.80" fill="#ff0000"/>
<path d="M40.10 382.25V381.35M37.60 381.35H42.60M79.55 372.05V364.85M77.05 364.85H82.05M89.95 383.45V367.25M87.45 367.25H92.45M119.00 366.65V355.25M116.50 355.25H121.50M129.40 370.25V328.85M126.90 328.85H131.90M126.90 370.25H131.90M139.80 377.75V371.45M137.30 371.45H142.30M158.45 345.65V324.65M155.95 324.65H160.95M168.85 362.45V281.45M166.35 281.45H171.35M166.35 362.45H171.35M197.90 324.65V289.85M195.40 289.85H200.40M208.30 340.25V261.05M205.80 261.05H210.80M205.80 340.25H210.80M237.35 346.55V339.05M234.85 339.05H239.85M247.75 351.05V258.05M245.25 258.05H250.25M245.25 351.05H250.25M258.15 381.05V378.05M255.65 378.05H260.65M276.80 351.65V337.25M274.30 337.25H279.30M287.20 377.75V337.85M284.70 337.85H289.70M284.70 377.75H289.70M297.60 382.25V379.55M295.10 379.55H300.10M316.25 326.45V303.05M313.75 303.05H318.75M326.65 366.65V337.25M324.15 337.25H329.15M324.15 366.65H329.15M337.05 378.65V374.45M334.55 374.45H339.55" stroke="#111" stroke-width="1.05" fill="none"/>
<text x="50.50" y="394.60" font-size="10" font-weight="bold" text-anchor="middle" fill="#000" stroke="#000" stroke-width="0.25" >1</text>
<text x="89.95" y="394.60" font-size="10" font-weight="bold" text-anchor="middle" fill="#000" stroke="#000" stroke-width="0.25" >2</text>
<text x="129.40" y="394.60" font-size="10" font-weight="bold" text-anchor="middle" fill="#000" stroke="#000" stroke-width="0.25" >3</text>
<text x="168.85" y="394.60" font-size="10" font-weight="bold" text-anchor="middle" fill="#000" stroke="#000" stroke-width="0.25" >4</text>
<text x="208.30" y="394.60" font-size="10" font-weight="bold" text-anchor="middle" fill="#000" stroke="#000" stroke-width="0.25" >5</text>
<text x="247.75" y="394.60" font-size="10" font-weight="bold" text-anchor="middle" fill="#000" stroke="#000" stroke-width="0.25" >6</text>
<text x="287.20" y="394.60" font-size="10" font-weight="bold" text-anchor="middle" fill="#000" stroke="#000" stroke-width="0.25" >7</text>
<text x="326.65" y="394.60" font-size="10" font-weight="bold" text-anchor="middle" fill="#000" stroke="#000" stroke-width="0.25" >8</text>
<text x="150.90" y="409.90" font-size="10.5" font-weight="bold" fill="#000" stroke="#000" stroke-width="0.25" textLength="27.60" lengthAdjust="spacingAndGlyphs">Week</text>
<text x="185.30" y="409.90" font-size="10.5" font-weight="bold" fill="#000" stroke="#000" stroke-width="0.25" textLength="41.70" lengthAdjust="spacingAndGlyphs">Post-KA</text>
<text x="0" y="0" font-size="10.5" font-weight="bold" stroke="#000" stroke-width="0.25" textLength="113.30" lengthAdjust="spacingAndGlyphs" transform="translate(11.80 363.50) rotate(-90)">Seizures/Mouse/Week</text>
<path d="M193.8 251.4H211.4M203 251.4V231.6H219.9V370.6" stroke="#cf2d3a" stroke-width="1.5" fill="none"/>
<text x="211.60" y="228.90" font-size="10.5" font-weight="bold" text-anchor="middle" fill="#d0313d" stroke="#d0313d" stroke-width="0.25" >*</text>
<rect x="355.10" y="289.90" width="11.70" height="9.50" fill="#000"/>
<text x="372.60" y="298.70" font-size="10.5" font-weight="bold" fill="#000" stroke="#000" stroke-width="0.25" textLength="50.40" lengthAdjust="spacingAndGlyphs">KA (<tspan font-style="italic">N</tspan> = 9)</text>
<rect x="355.10" y="303.55" width="11.70" height="9.50" fill="#0000ff"/>
<text x="372.60" y="312.35" font-size="10.5" font-weight="bold" fill="#000" stroke="#000" stroke-width="0.25" textLength="69.10" lengthAdjust="spacingAndGlyphs">Scram (<tspan font-style="italic">N</tspan> = 7)</text>
<rect x="355.10" y="317.20" width="11.70" height="9.50" fill="#ff0000"/>
<text x="372.60" y="326.00" font-size="10.5" font-weight="bold" fill="#000" stroke="#000" stroke-width="0.25" textLength="74.00" lengthAdjust="spacingAndGlyphs">Scn8a (<tspan font-style="italic">N</tspan> = 10)</text>
<text x="468.70" y="223.30" font-size="12.3" font-weight="bold" text-anchor="start" fill="#000" stroke="#000" stroke-width="0.25" >d</text>
<line x1="497.10" y1="281.85" x2="497.10" y2="382.80" stroke="#000" stroke-width="1.3"/>
<line x1="497.10" y1="382.20" x2="648.60" y2="382.20" stroke="#000" stroke-width="1.3"/>
<line x1="493.60" y1="382.20" x2="497.10" y2="382.20" stroke="#000" stroke-width="1.3"/>
<text x="493.30" y="385.80" font-size="10" font-weight="bold" text-anchor="end" fill="#000" stroke="#000" stroke-width="0.25" >0</text>
<line x1="493.60" y1="362.25" x2="497.10" y2="362.25" stroke="#000" stroke-width="1.3"/>
<text x="493.30" y="365.85" font-size="10" font-weight="bold" text-anchor="end" fill="#000" stroke="#000" stroke-width="0.25" >10</text>
<line x1="493.60" y1="342.30" x2="497.10" y2="342.30" stroke="#000" stroke-width="1.3"/>
<text x="493.30" y="345.90" font-size="10" font-weight="bold" text-anchor="end" fill="#000" stroke="#000" stroke-width="0.25" >20</text>
<line x1="493.60" y1="322.35" x2="497.10" y2="322.35" stroke="#000" stroke-width="1.3"/>
<text x="493.30" y="325.95" font-size="10" font-weight="bold" text-anchor="end" fill="#000" stroke="#000" stroke-width="0.25" >30</text>
<line x1="493.60" y1="302.40" x2="497.10" y2="302.40" stroke="#000" stroke-width="1.3"/>
<text x="493.30" y="306.00" font-size="10" font-weight="bold" text-anchor="end" fill="#000" stroke="#000" stroke-width="0.25" >40</text>
<line x1="493.60" y1="282.45" x2="497.10" y2="282.45" stroke="#000" stroke-width="1.3"/>
<text x="493.30" y="286.05" font-size="10" font-weight="bold" text-anchor="end" fill="#000" stroke="#000" stroke-width="0.25" >50</text>
<rect x="512.60" y="333.12" width="31.20" height="49.08" fill="#000"/>
<rect x="557.70" y="315.57" width="31.00" height="66.63" fill="#0000ff"/>
<rect x="602.80" y="378.81" width="31.10" height="3.39" fill="#ff0000"/>
<path d="M528.5 333.12V315.77M521.0 315.77H536.0M573.5 342.70V288.04M566.0 288.04H581.0M566.0 342.70H581.0M618.5 378.81V376.41M611.0 376.41H626.0" stroke="#111" stroke-width="1.1" fill="none"/>
<text x="520.80" y="393.70" font-size="10.5" font-weight="bold" fill="#000" stroke="#000" stroke-width="0.25" textLength="15.30" lengthAdjust="spacingAndGlyphs">KA</text>
<text x="515.00" y="408.70" font-size="10.5" font-weight="bold" fill="#000" stroke="#000" stroke-width="0.25" textLength="25.50" lengthAdjust="spacingAndGlyphs"><tspan font-style="italic">N</tspan> = 9</text>
<text x="556.80" y="393.70" font-size="10.5" font-weight="bold" fill="#000" stroke="#000" stroke-width="0.25" textLength="32.90" lengthAdjust="spacingAndGlyphs">Scram</text>
<text x="557.80" y="408.70" font-size="10.5" font-weight="bold" fill="#000" stroke="#000" stroke-width="0.25" textLength="25.40" lengthAdjust="spacingAndGlyphs"><tspan font-style="italic">N</tspan> = 7</text>
<text x="602.50" y="393.70" font-size="10.5" font-weight="bold" fill="#000" stroke="#000" stroke-width="0.25" textLength="31.80" lengthAdjust="spacingAndGlyphs">Scn8a</text>
<text x="600.90" y="408.70" font-size="10.5" font-weight="bold" fill="#000" stroke="#000" stroke-width="0.25" textLength="32.00" lengthAdjust="spacingAndGlyphs"><tspan font-style="italic">N</tspan> = 10</text>
<path d="M527.6 263.5V258.8H621.6V263.5" stroke="#000" stroke-width="1.1" fill="none"/>
<path d="M528.6 281.3V276.4H570.5V281.3M575.2 281.3V276.4H620V281.3" stroke="#000" stroke-width="1.1" fill="none"/>
<text x="573.55" y="257.40" font-size="10.5" font-weight="bold" text-anchor="middle" fill="#000" stroke="#000" stroke-width="0.25" >*</text>
<text x="599.10" y="277.00" font-size="10.5" font-weight="bold" text-anchor="middle" fill="#000" stroke="#000" stroke-width="0.25" >*</text>
<text x="539.90" y="272.30" font-size="10.5" font-weight="bold" fill="#000" stroke="#000" stroke-width="0.25" textLength="20.40" lengthAdjust="spacingAndGlyphs" font-style="italic">N.S.</text>
<text x="0" y="0" font-size="10.5" font-weight="bold" stroke="#000" stroke-width="0.25" textLength="125.50" lengthAdjust="spacingAndGlyphs" transform="translate(476.00 393.80) rotate(-90)">Seizures/Mouse/8 weeks</text>
</svg></body></html>
